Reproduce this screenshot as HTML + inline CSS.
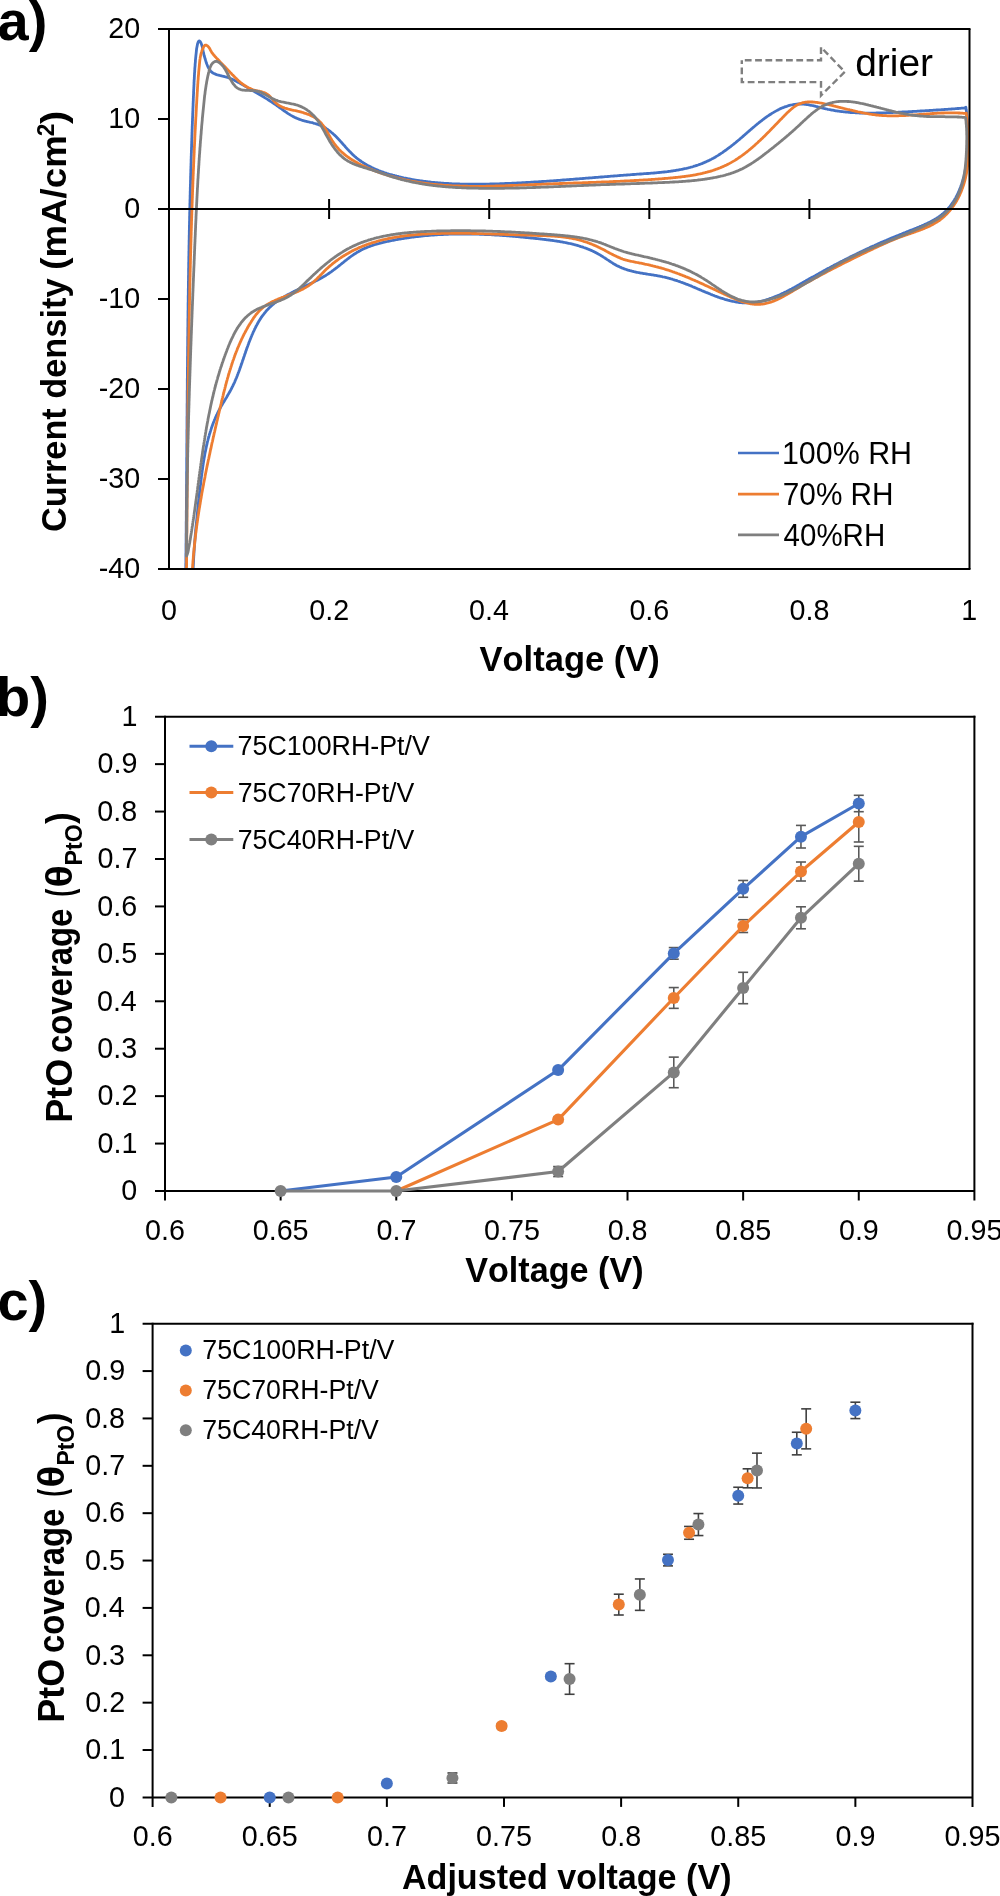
<!DOCTYPE html>
<html><head><meta charset="utf-8"><title>figure</title>
<style>
html,body{margin:0;padding:0;background:#fff;}
svg{display:block;will-change:transform;}
text{font-family:"Liberation Sans",sans-serif;font-kerning:none;fill:#000;}
</style></head><body>
<svg width="1000" height="1896" viewBox="0 0 1000 1896">
<rect x="0" y="0" width="1000" height="1896" fill="#fff"/>
<clipPath id="clipa"><rect x="169.00" y="29.00" width="800.50" height="540.00"/></clipPath>
<path d="M185.4,600.0 185.4,599.0 185.4,598.0 185.4,597.0 185.5,596.0 185.5,595.0 185.5,594.0 185.5,593.0 185.5,592.0 185.5,591.0 185.5,590.0 185.5,589.0 185.6,588.0 185.6,587.0 185.6,586.0 185.6,585.0 185.6,584.0 185.6,583.0 185.6,582.0 185.6,581.0 185.7,580.0 185.7,579.0 185.7,578.0 185.7,577.0 185.7,576.0 185.7,575.0 185.7,574.0 185.7,573.0 185.8,572.0 185.8,571.0 185.8,570.0 185.8,569.0 185.8,568.0 185.8,567.0 185.8,566.0 185.8,565.0 185.8,564.0 185.9,563.0 185.9,562.0 185.9,561.0 185.9,560.0 185.9,559.0 185.9,558.0 185.9,557.0 185.9,556.0 185.9,554.9 185.9,553.9 186.0,552.9 186.0,551.9 186.0,550.9 186.0,549.9 186.0,548.9 186.0,547.9 186.0,546.9 186.0,545.9 186.0,544.9 186.0,543.9 186.1,542.9 186.1,541.9 186.1,540.9 186.1,539.9 186.1,538.9 186.1,537.9 186.1,536.9 186.1,535.9 186.1,534.9 186.1,533.9 186.2,532.9 186.2,531.9 186.2,530.9 186.2,529.9 186.2,528.9 186.2,527.9 186.2,526.9 186.2,525.9 186.2,524.9 186.2,523.9 186.2,522.9 186.2,521.9 186.3,520.9 186.3,519.9 186.3,518.9 186.3,517.9 186.3,516.9 186.3,515.9 186.3,514.9 186.3,513.9 186.3,512.9 186.3,511.9 186.3,510.9 186.4,509.9 186.4,508.9 186.4,507.9 186.4,506.9 186.4,505.9 186.4,504.9 186.4,503.9 186.4,502.9 186.4,501.9 186.4,500.9 186.4,499.9 186.4,498.9 186.4,497.9 186.5,496.9 186.5,495.9 186.5,494.9 186.5,493.9 186.5,492.9 186.5,491.9 186.5,490.9 186.5,489.9 186.5,488.9 186.5,487.9 186.5,486.9 186.5,485.9 186.5,484.9 186.6,483.9 186.6,482.9 186.6,481.9 186.6,480.9 186.6,479.9 186.6,478.9 186.6,477.9 186.6,476.9 186.6,475.9 186.6,474.9 186.6,473.9 186.6,472.9 186.6,471.9 186.7,470.9 186.7,469.9 186.7,468.9 186.7,467.9 186.7,466.9 186.7,465.9 186.7,464.9 186.7,463.9 186.7,462.9 186.7,461.9 186.7,460.9 186.7,459.9 186.7,458.9 186.7,457.9 186.8,456.9 186.8,455.9 186.8,454.9 186.8,453.9 186.8,452.9 186.8,451.9 186.8,450.9 186.8,449.9 186.8,448.9 186.8,447.9 186.8,446.9 186.8,445.9 186.8,444.9 186.8,443.9 186.9,442.9 186.9,441.9 186.9,440.9 186.9,439.9 186.9,438.9 186.9,437.9 186.9,436.9 186.9,435.9 186.9,434.9 186.9,433.9 186.9,432.9 186.9,431.9 186.9,430.9 186.9,429.9 187.0,428.8 187.0,427.8 187.0,426.8 187.0,425.8 187.0,424.8 187.0,423.8 187.0,422.8 187.0,421.8 187.0,420.8 187.0,419.8 187.0,418.8 187.0,417.8 187.0,416.8 187.1,415.8 187.1,414.8 187.1,413.8 187.1,412.8 187.1,411.8 187.1,410.8 187.1,409.8 187.1,408.8 187.1,407.8 187.1,406.8 187.1,405.8 187.1,404.8 187.1,403.8 187.2,402.8 187.2,401.8 187.2,400.8 187.2,399.8 187.2,398.8 187.2,397.8 187.2,396.8 187.2,395.8 187.2,394.8 187.2,393.8 187.2,392.8 187.2,391.8 187.2,390.8 187.3,389.8 187.3,388.8 187.3,387.8 187.3,386.8 187.3,385.8 187.3,384.8 187.3,383.8 187.3,382.8 187.3,381.8 187.3,380.8 187.3,379.8 187.3,378.8 187.4,377.8 187.4,376.8 187.4,375.8 187.4,374.8 187.4,373.8 187.4,372.8 187.4,371.8 187.4,370.8 187.4,369.8 187.4,368.8 187.4,367.8 187.5,366.8 187.5,365.8 187.5,364.8 187.5,363.8 187.5,362.8 187.5,361.8 187.5,360.8 187.5,359.8 187.5,358.8 187.5,357.8 187.5,356.8 187.6,355.8 187.6,354.8 187.6,353.8 187.6,352.8 187.6,351.8 187.6,350.8 187.6,349.8 187.6,348.8 187.6,347.8 187.6,346.8 187.7,345.8 187.7,344.8 187.7,343.8 187.7,342.8 187.7,341.8 187.7,340.8 187.7,339.8 187.7,338.8 187.7,337.8 187.7,336.8 187.8,335.8 187.8,334.8 187.8,333.8 187.8,332.8 187.8,331.8 187.8,330.8 187.8,329.8 187.8,328.8 187.8,327.8 187.9,326.8 187.9,325.8 187.9,324.8 187.9,323.8 187.9,322.8 187.9,321.8 187.9,320.8 187.9,319.8 187.9,318.8 188.0,317.8 188.0,316.8 188.0,315.8 188.0,314.8 188.0,313.8 188.0,312.8 188.0,311.8 188.0,310.8 188.1,309.8 188.1,308.8 188.1,307.8 188.1,306.8 188.1,305.8 188.1,304.8 188.1,303.8 188.1,302.8 188.2,301.8 188.2,300.8 188.2,299.8 188.2,298.8 188.2,297.8 188.2,296.8 188.2,295.8 188.3,294.8 188.3,293.8 188.3,292.8 188.3,291.8 188.3,290.8 188.3,289.8 188.3,288.8 188.4,287.8 188.4,286.8 188.4,285.8 188.4,284.8 188.4,283.8 188.4,282.8 188.4,281.8 188.5,280.8 188.5,279.8 188.5,278.8 188.5,277.8 188.5,276.8 188.5,275.8 188.6,274.8 188.6,273.8 188.6,272.8 188.6,271.8 188.6,270.8 188.6,269.7 188.6,268.7 188.7,267.7 188.7,266.7 188.7,265.7 188.7,264.7 188.7,263.7 188.7,262.7 188.8,261.7 188.8,260.7 188.8,259.7 188.8,258.7 188.8,257.7 188.8,256.7 188.9,255.7 188.9,254.7 188.9,253.7 188.9,252.7 188.9,251.7 189.0,250.7 189.0,249.7 189.0,248.7 189.0,247.7 189.0,246.7 189.0,245.7 189.1,244.7 189.1,243.7 189.1,242.7 189.1,241.7 189.1,240.7 189.2,239.7 189.2,238.7 189.2,237.7 189.2,236.7 189.2,235.7 189.3,234.7 189.3,233.7 189.3,232.7 189.3,231.7 189.3,230.7 189.4,229.7 189.4,228.7 189.4,227.7 189.4,226.7 189.4,225.7 189.5,224.7 189.5,223.7 189.5,222.7 189.5,221.7 189.6,220.7 189.6,219.7 189.6,218.7 189.6,217.7 189.6,216.7 189.7,215.7 189.7,214.7 189.7,213.7 189.7,212.7 189.8,211.7 189.8,210.7 189.8,209.7 189.8,208.7 189.8,207.7 189.9,206.7 189.9,205.7 189.9,204.7 189.9,203.7 190.0,202.7 190.0,201.7 190.0,200.7 190.0,199.7 190.1,198.7 190.1,197.7 190.1,196.7 190.1,195.7 190.2,194.7 190.2,193.7 190.2,192.7 190.2,191.7 190.3,190.7 190.3,189.7 190.3,188.7 190.3,187.7 190.4,186.7 190.4,185.7 190.4,184.7 190.5,183.7 190.5,182.7 190.5,181.7 190.5,180.7 190.6,179.7 190.6,178.7 190.6,177.7 190.6,176.7 190.7,175.7 190.7,174.7 190.7,173.7 190.8,172.7 190.8,171.7 190.8,170.7 190.8,169.7 190.9,168.7 190.9,167.7 190.9,166.7 191.0,165.7 191.0,164.7 191.0,163.7 191.1,162.7 191.1,161.7 191.1,160.7 191.1,159.6 191.2,158.6 191.2,157.6 191.2,156.6 191.3,155.6 191.3,154.6 191.3,153.6 191.4,152.6 191.4,151.6 191.4,150.6 191.5,149.6 191.5,148.6 191.5,147.6 191.6,146.6 191.6,145.6 191.6,144.6 191.7,143.6 191.7,142.6 191.7,141.6 191.8,140.6 191.8,139.6 191.8,138.6 191.9,137.6 191.9,136.6 191.9,135.6 192.0,134.6 192.0,133.6 192.0,132.6 192.1,131.6 192.1,130.6 192.1,129.6 192.2,128.6 192.2,127.6 192.2,126.6 192.3,125.6 192.3,124.6 192.4,123.6 192.4,122.6 192.4,121.6 192.5,120.6 192.5,119.6 192.5,118.6 192.6,117.6 192.6,116.6 192.7,115.6 192.7,114.6 192.7,113.6 192.8,112.6 192.8,111.6 192.9,110.6 192.9,109.6 192.9,108.6 193.0,107.6 193.0,106.6 193.1,105.6 193.1,104.6 193.1,103.6 193.2,102.6 193.2,101.6 193.3,100.6 193.3,99.6 193.3,98.6 193.4,97.6 193.4,96.6 193.5,95.6 193.5,94.6 193.6,93.6 193.6,92.6 193.6,91.6 193.7,90.6 193.7,89.6 193.8,88.6 193.8,87.6 193.9,86.6 193.9,85.6 194.0,84.6 194.0,83.6 194.0,82.6 194.1,81.6 194.1,80.6 194.2,79.6 194.3,78.6 194.3,77.6 194.4,76.6 194.4,75.6 194.5,74.6 194.5,73.6 194.6,72.6 194.7,71.6 194.7,70.6 194.8,69.6 194.8,68.6 194.9,67.6 195.0,66.6 195.1,65.6 195.1,64.6 195.2,63.6 195.3,62.6 195.4,61.6 195.4,60.7 195.5,59.7 195.6,58.7 195.7,57.7 195.8,56.7 195.9,55.7 196.0,54.7 196.1,53.8 196.2,52.8 196.3,51.8 196.4,50.8 196.5,49.8 196.6,48.8 196.8,47.8 197.0,46.8 197.2,45.7 197.4,44.6 197.7,43.4 198.1,42.3 198.5,41.4 199.0,40.9 199.5,40.9 200.0,41.4 200.5,42.1 200.9,42.8 201.3,43.7 201.6,44.6 201.9,45.6 202.2,46.6 202.5,47.6 202.7,48.7 202.9,49.8 203.1,50.9 203.3,51.9 203.5,52.9 203.8,53.9 204.0,54.9 204.2,55.8 204.5,56.7 204.8,57.6 205.0,58.5 205.3,59.4 205.6,60.4 205.9,61.3 206.2,62.3 206.5,63.3 206.9,64.3 207.3,65.2 207.7,66.2 208.1,67.1 208.6,68.0 209.1,68.9 209.6,69.7 210.2,70.5 210.8,71.2 211.5,71.9 212.2,72.5 213.0,73.0 213.8,73.4 214.7,73.9 215.6,74.2 216.5,74.6 217.5,74.9 218.5,75.1 219.5,75.4 220.5,75.6 221.5,75.9 222.5,76.1 223.6,76.3 224.6,76.6 225.6,76.8 226.6,77.1 227.6,77.4 228.5,77.7 229.5,78.1 230.4,78.5 231.3,78.8 232.3,79.2 233.2,79.7 234.0,80.1 234.9,80.6 235.8,81.0 236.7,81.5 237.6,82.0 238.4,82.4 239.3,82.9 240.1,83.4 241.0,83.9 241.8,84.4 242.7,84.9 243.6,85.4 244.4,85.9 245.3,86.4 246.1,86.9 247.0,87.4 247.9,87.9 248.7,88.4 249.6,88.9 250.5,89.4 251.3,89.8 252.2,90.3 253.0,90.8 253.9,91.3 254.8,91.8 255.6,92.3 256.5,92.8 257.4,93.3 258.2,93.8 259.1,94.3 259.9,94.8 260.8,95.3 261.7,95.8 262.5,96.3 263.4,96.8 264.2,97.3 265.1,97.9 265.9,98.4 266.8,98.9 267.6,99.4 268.5,100.0 269.3,100.5 270.1,101.0 271.0,101.6 271.8,102.1 272.6,102.7 273.5,103.2 274.3,103.8 275.1,104.4 275.9,104.9 276.7,105.5 277.6,106.1 278.4,106.7 279.2,107.3 280.0,107.8 280.8,108.4 281.6,109.0 282.4,109.6 283.2,110.2 284.0,110.8 284.8,111.3 285.7,111.9 286.5,112.5 287.3,113.0 288.1,113.6 289.0,114.1 289.8,114.6 290.6,115.1 291.5,115.6 292.4,116.1 293.2,116.6 294.1,117.0 295.0,117.5 295.9,117.9 296.8,118.3 297.7,118.7 298.6,119.0 299.5,119.4 300.5,119.7 301.4,120.0 302.4,120.3 303.4,120.6 304.3,120.8 305.3,121.1 306.3,121.3 307.3,121.6 308.3,121.8 309.2,122.0 310.2,122.3 311.2,122.5 312.2,122.7 313.2,123.0 314.1,123.3 315.1,123.5 316.1,123.8 317.0,124.1 318.0,124.5 318.9,124.8 319.8,125.2 320.7,125.5 321.6,126.0 322.5,126.4 323.4,126.9 324.2,127.3 325.1,127.8 325.9,128.3 326.7,128.9 327.6,129.4 328.4,130.0 329.2,130.6 329.9,131.2 330.7,131.8 331.5,132.5 332.3,133.1 333.0,133.8 333.8,134.5 334.5,135.1 335.2,135.8 336.0,136.6 336.7,137.3 337.4,138.0 338.1,138.7 338.8,139.5 339.5,140.2 340.2,141.0 340.9,141.7 341.6,142.5 342.2,143.3 342.9,144.0 343.6,144.8 344.3,145.6 345.0,146.3 345.6,147.1 346.3,147.9 347.0,148.6 347.7,149.4 348.4,150.1 349.1,150.9 349.8,151.6 350.5,152.3 351.2,153.0 351.9,153.7 352.6,154.4 353.3,155.1 354.1,155.8 354.8,156.5 355.6,157.1 356.3,157.8 357.1,158.4 357.9,159.0 358.7,159.6 359.5,160.2 360.3,160.8 361.1,161.3 361.9,161.9 362.7,162.4 363.6,163.0 364.4,163.5 365.2,164.0 366.1,164.5 366.9,165.0 367.8,165.5 368.7,165.9 369.5,166.4 370.4,166.8 371.3,167.3 372.2,167.7 373.1,168.1 374.0,168.6 374.9,169.0 375.8,169.4 376.7,169.7 377.6,170.1 378.5,170.5 379.5,170.9 380.4,171.2 381.3,171.6 382.3,171.9 383.2,172.2 384.2,172.6 385.1,172.9 386.1,173.2 387.0,173.5 388.0,173.8 388.9,174.1 389.9,174.4 390.8,174.6 391.8,174.9 392.8,175.2 393.8,175.4 394.7,175.7 395.7,175.9 396.7,176.2 397.7,176.4 398.6,176.7 399.6,176.9 400.6,177.1 401.6,177.3 402.6,177.5 403.5,177.8 404.5,178.0 405.5,178.2 406.5,178.4 407.5,178.6 408.5,178.8 409.4,178.9 410.4,179.1 411.4,179.3 412.4,179.5 413.4,179.7 414.4,179.8 415.4,180.0 416.3,180.2 417.3,180.3 418.3,180.5 419.3,180.6 420.3,180.8 421.3,180.9 422.3,181.0 423.3,181.2 424.3,181.3 425.3,181.4 426.3,181.6 427.2,181.7 428.2,181.8 429.2,181.9 430.2,182.0 431.2,182.2 432.2,182.3 433.2,182.4 434.2,182.5 435.2,182.6 436.2,182.6 437.2,182.7 438.2,182.8 439.2,182.9 440.2,183.0 441.2,183.1 442.2,183.1 443.2,183.2 444.2,183.3 445.2,183.4 446.2,183.4 447.2,183.5 448.2,183.5 449.2,183.6 450.2,183.7 451.2,183.7 452.2,183.8 453.2,183.8 454.2,183.8 455.2,183.9 456.2,183.9 457.2,184.0 458.2,184.0 459.2,184.0 460.2,184.1 461.2,184.1 462.2,184.1 463.2,184.1 464.2,184.1 465.2,184.2 466.2,184.2 467.2,184.2 468.2,184.2 469.2,184.2 470.2,184.2 471.2,184.2 472.2,184.2 473.2,184.2 474.2,184.2 475.2,184.2 476.2,184.2 477.2,184.2 478.2,184.2 479.2,184.2 480.2,184.2 481.2,184.2 482.2,184.2 483.2,184.2 484.2,184.2 485.2,184.1 486.2,184.1 487.2,184.1 488.2,184.1 489.2,184.1 490.2,184.0 491.2,184.0 492.2,184.0 493.2,184.0 494.2,183.9 495.2,183.9 496.2,183.9 497.2,183.8 498.2,183.8 499.2,183.8 500.2,183.7 501.2,183.7 502.2,183.7 503.2,183.6 504.2,183.6 505.2,183.5 506.2,183.5 507.2,183.5 508.2,183.4 509.2,183.4 510.2,183.3 511.2,183.3 512.2,183.2 513.2,183.2 514.2,183.1 515.2,183.1 516.2,183.1 517.2,183.0 518.2,183.0 519.2,182.9 520.2,182.8 521.2,182.8 522.2,182.7 523.2,182.7 524.2,182.6 525.2,182.6 526.2,182.5 527.2,182.5 528.2,182.4 529.2,182.3 530.2,182.3 531.2,182.2 532.2,182.2 533.2,182.1 534.2,182.0 535.2,182.0 536.2,181.9 537.2,181.9 538.1,181.8 539.1,181.7 540.1,181.7 541.1,181.6 542.1,181.5 543.1,181.5 544.1,181.4 545.1,181.3 546.1,181.3 547.1,181.2 548.1,181.1 549.1,181.1 550.1,181.0 551.1,180.9 552.1,180.8 553.1,180.8 554.1,180.7 555.1,180.6 556.1,180.6 557.1,180.5 558.1,180.4 559.1,180.3 560.1,180.3 561.0,180.2 562.0,180.1 563.0,180.0 564.0,180.0 565.0,179.9 566.0,179.8 567.0,179.7 568.0,179.7 569.0,179.6 570.0,179.5 571.0,179.4 572.0,179.3 573.0,179.3 574.0,179.2 575.0,179.1 576.0,179.0 577.0,179.0 578.0,178.9 579.0,178.8 580.0,178.7 581.0,178.6 582.0,178.6 583.0,178.5 584.0,178.4 585.0,178.3 585.9,178.2 586.9,178.2 587.9,178.1 588.9,178.0 589.9,177.9 590.9,177.8 591.9,177.8 592.9,177.7 593.9,177.6 594.9,177.5 595.9,177.4 596.9,177.4 597.9,177.3 598.9,177.2 599.9,177.1 600.9,177.0 601.9,177.0 602.9,176.9 603.9,176.8 604.9,176.7 605.9,176.6 606.9,176.6 607.9,176.5 608.9,176.4 609.9,176.3 610.9,176.2 611.9,176.2 612.9,176.1 613.9,176.0 614.9,175.9 615.9,175.8 616.9,175.8 617.9,175.7 618.9,175.6 619.9,175.5 620.9,175.4 621.9,175.4 622.9,175.3 623.9,175.2 624.9,175.1 625.9,175.1 626.9,175.0 627.9,174.9 628.9,174.8 629.9,174.8 631.0,174.7 632.0,174.6 633.0,174.5 634.0,174.5 635.0,174.4 636.0,174.3 637.0,174.2 638.0,174.2 639.0,174.1 640.0,174.0 641.0,174.0 642.0,173.9 643.0,173.8 644.0,173.7 645.0,173.7 646.0,173.6 647.0,173.5 648.1,173.5 649.1,173.4 650.1,173.3 651.1,173.2 652.1,173.1 653.1,173.1 654.1,173.0 655.1,172.9 656.1,172.8 657.1,172.7 658.1,172.6 659.1,172.5 660.1,172.4 661.1,172.3 662.1,172.2 663.1,172.1 664.1,172.0 665.1,171.9 666.1,171.8 667.1,171.7 668.1,171.5 669.0,171.4 670.0,171.3 671.0,171.1 672.0,171.0 673.0,170.9 674.0,170.7 675.0,170.6 675.9,170.4 676.9,170.2 677.9,170.1 678.9,169.9 679.9,169.7 680.8,169.5 681.8,169.3 682.8,169.1 683.7,168.9 684.7,168.7 685.7,168.5 686.6,168.3 687.6,168.0 688.5,167.8 689.5,167.5 690.4,167.3 691.4,167.0 692.3,166.8 693.3,166.5 694.2,166.2 695.2,165.9 696.1,165.6 697.0,165.3 698.0,165.0 698.9,164.7 699.8,164.3 700.7,164.0 701.7,163.6 702.6,163.3 703.5,162.9 704.4,162.5 705.3,162.1 706.2,161.7 707.1,161.3 708.0,160.9 708.9,160.5 709.8,160.0 710.7,159.6 711.6,159.1 712.4,158.6 713.3,158.2 714.2,157.7 715.1,157.2 715.9,156.7 716.8,156.1 717.7,155.6 718.5,155.1 719.4,154.5 720.2,154.0 721.1,153.4 721.9,152.9 722.8,152.3 723.6,151.7 724.4,151.1 725.3,150.5 726.1,150.0 726.9,149.4 727.7,148.7 728.5,148.1 729.4,147.5 730.2,146.9 731.0,146.3 731.8,145.6 732.6,145.0 733.4,144.4 734.2,143.7 735.0,143.1 735.8,142.5 736.5,141.8 737.3,141.2 738.1,140.5 738.9,139.9 739.7,139.2 740.4,138.5 741.2,137.9 742.0,137.2 742.7,136.6 743.5,135.9 744.2,135.3 745.0,134.6 745.7,133.9 746.5,133.3 747.2,132.6 748.0,132.0 748.7,131.3 749.5,130.7 750.2,130.0 751.0,129.4 751.7,128.7 752.5,128.1 753.2,127.4 754.0,126.8 754.7,126.2 755.5,125.5 756.3,124.9 757.0,124.3 757.8,123.6 758.6,123.0 759.3,122.4 760.1,121.8 760.9,121.2 761.7,120.6 762.4,120.0 763.2,119.4 764.0,118.8 764.8,118.2 765.6,117.6 766.5,117.0 767.3,116.4 768.1,115.9 768.9,115.3 769.8,114.8 770.6,114.2 771.4,113.7 772.3,113.1 773.2,112.6 774.0,112.1 774.9,111.6 775.8,111.1 776.7,110.6 777.5,110.2 778.4,109.7 779.3,109.3 780.2,108.8 781.1,108.4 782.0,108.0 783.0,107.6 783.9,107.3 784.8,106.9 785.7,106.6 786.7,106.3 787.6,106.0 788.5,105.7 789.5,105.4 790.4,105.2 791.4,105.0 792.3,104.8 793.3,104.6 794.2,104.4 795.2,104.3 796.2,104.2 797.1,104.1 798.1,104.0 799.1,104.0 800.0,104.0 801.0,104.0 802.0,104.1 803.0,104.1 804.0,104.2 804.9,104.3 805.9,104.4 806.9,104.6 807.9,104.7 808.9,104.9 809.9,105.1 810.9,105.3 811.9,105.5 812.9,105.7 813.9,105.9 814.9,106.1 815.9,106.4 816.9,106.6 817.9,106.9 818.9,107.1 819.9,107.4 820.8,107.6 821.9,107.9 822.9,108.1 823.9,108.4 824.8,108.6 825.8,108.8 826.8,109.0 827.8,109.3 828.8,109.5 829.8,109.7 830.8,109.9 831.8,110.1 832.8,110.2 833.8,110.4 834.8,110.6 835.8,110.8 836.8,110.9 837.8,111.1 838.8,111.2 839.8,111.3 840.8,111.5 841.8,111.6 842.8,111.7 843.8,111.8 844.8,111.9 845.8,112.0 846.8,112.1 847.8,112.2 848.8,112.3 849.7,112.4 850.7,112.5 851.7,112.5 852.7,112.6 853.7,112.7 854.7,112.7 855.7,112.8 856.7,112.8 857.7,112.9 858.7,112.9 859.7,113.0 860.7,113.0 861.7,113.0 862.7,113.0 863.6,113.1 864.6,113.1 865.6,113.1 866.6,113.1 867.6,113.1 868.6,113.1 869.6,113.1 870.6,113.1 871.6,113.1 872.6,113.1 873.6,113.1 874.6,113.1 875.6,113.1 876.6,113.0 877.5,113.0 878.5,113.0 879.5,113.0 880.5,112.9 881.5,112.9 882.5,112.9 883.5,112.8 884.5,112.8 885.5,112.8 886.5,112.7 887.5,112.7 888.5,112.7 889.5,112.6 890.5,112.6 891.5,112.5 892.5,112.5 893.5,112.4 894.5,112.4 895.5,112.4 896.5,112.3 897.5,112.3 898.5,112.2 899.5,112.2 900.5,112.1 901.5,112.1 902.5,112.0 903.5,112.0 904.5,111.9 905.5,111.9 906.5,111.8 907.5,111.8 908.5,111.7 909.5,111.7 910.5,111.6 911.5,111.6 912.5,111.5 913.5,111.4 914.5,111.4 915.5,111.3 916.5,111.3 917.5,111.2 918.5,111.2 919.5,111.1 920.5,111.0 921.5,111.0 922.6,110.9 923.6,110.9 924.6,110.8 925.6,110.7 926.6,110.7 927.6,110.6 928.6,110.6 929.6,110.5 930.6,110.4 931.6,110.4 932.6,110.3 933.6,110.2 934.6,110.2 935.6,110.1 936.6,110.0 937.6,110.0 938.6,109.9 939.6,109.8 940.6,109.8 941.6,109.7 942.6,109.6 943.6,109.6 944.6,109.5 945.6,109.4 946.6,109.4 947.6,109.3 948.6,109.2 949.6,109.1 950.6,109.1 951.6,109.0 952.6,108.9 953.6,108.8 954.6,108.8 955.6,108.7 956.6,108.6 957.6,108.5 958.6,108.5 959.5,108.4 960.5,108.3 961.5,108.2 962.5,108.2 963.5,108.1 964.5,108.0 965.9,107.3 966.0,108.3 966.1,109.3 966.3,110.3 966.4,111.2 966.5,112.2 966.6,113.2 966.7,114.2 966.8,115.2 966.9,116.2 967.0,117.2 967.1,118.2 967.2,119.2 967.3,120.2 967.3,121.2 967.4,122.1 967.5,123.1 967.6,124.1 967.6,125.1 967.7,126.1 967.7,127.1 967.8,128.1 967.8,129.1 967.9,130.1 967.9,131.1 968.0,132.1 968.0,133.1 968.0,134.1 968.1,135.1 968.1,136.1 968.1,137.1 968.1,138.1 968.1,139.1 968.1,140.1 968.1,141.1 968.1,142.1 968.1,143.1 968.0,144.1 968.0,145.1 968.0,146.1 967.9,147.1 967.9,148.1 967.8,149.1 967.8,150.1 967.7,151.1 967.7,152.1 967.6,153.1 967.5,154.1 967.4,155.1 967.3,156.1 967.2,157.1 967.1,158.1 967.0,159.1 966.9,160.1 966.7,161.1 966.6,162.1 966.5,163.1 966.3,164.1 966.2,165.1 966.0,166.1 965.8,167.1 965.7,168.1 965.5,169.1 965.3,170.1 965.1,171.1 964.9,172.1 964.7,173.1 964.4,174.1 964.2,175.1 964.0,176.1 963.7,177.1 963.4,178.0 963.2,179.0 962.9,180.0 962.6,181.0 962.3,181.9 962.0,182.9 961.7,183.9 961.4,184.8 961.0,185.8 960.7,186.7 960.3,187.7 960.0,188.6 959.6,189.5 959.2,190.5 958.8,191.4 958.4,192.3 958.0,193.2 957.6,194.1 957.2,195.0 956.7,195.9 956.2,196.8 955.8,197.6 955.3,198.5 954.8,199.3 954.3,200.2 953.8,201.0 953.3,201.8 952.7,202.6 952.2,203.4 951.6,204.2 951.0,205.0 950.4,205.8 949.8,206.6 949.2,207.3 948.6,208.0 947.9,208.8 947.3,209.5 946.6,210.2 945.9,210.9 945.2,211.6 944.5,212.2 943.8,212.9 943.1,213.5 942.3,214.1 941.6,214.8 940.8,215.4 940.0,215.9 939.2,216.5 938.4,217.1 937.6,217.6 936.7,218.2 935.9,218.7 935.0,219.2 934.2,219.7 933.3,220.2 932.4,220.7 931.5,221.2 930.6,221.7 929.7,222.1 928.8,222.6 927.9,223.0 927.0,223.5 926.1,223.9 925.1,224.3 924.2,224.8 923.2,225.2 922.3,225.6 921.4,226.0 920.4,226.4 919.5,226.8 918.5,227.2 917.5,227.6 916.6,228.0 915.6,228.3 914.7,228.7 913.7,229.1 912.8,229.5 911.8,229.9 910.9,230.2 909.9,230.6 909.0,231.0 908.1,231.4 907.1,231.7 906.2,232.1 905.2,232.5 904.3,232.8 903.4,233.2 902.5,233.6 901.5,234.0 900.6,234.3 899.7,234.7 898.8,235.1 897.8,235.5 896.9,235.8 896.0,236.2 895.1,236.6 894.1,237.0 893.2,237.4 892.3,237.7 891.4,238.1 890.5,238.5 889.6,238.9 888.6,239.3 887.7,239.7 886.8,240.1 885.9,240.5 885.0,240.8 884.1,241.2 883.2,241.6 882.2,242.0 881.3,242.4 880.4,242.8 879.5,243.2 878.6,243.6 877.7,244.0 876.8,244.5 875.9,244.9 875.0,245.3 874.1,245.7 873.1,246.1 872.2,246.5 871.3,246.9 870.4,247.3 869.5,247.8 868.6,248.2 867.7,248.6 866.8,249.0 865.9,249.4 865.0,249.9 864.1,250.3 863.2,250.7 862.3,251.1 861.4,251.6 860.5,252.0 859.6,252.4 858.7,252.9 857.8,253.3 856.9,253.7 856.0,254.2 855.1,254.6 854.2,255.1 853.3,255.5 852.4,255.9 851.5,256.4 850.6,256.8 849.7,257.3 848.8,257.7 847.9,258.2 847.0,258.6 846.1,259.1 845.2,259.5 844.3,260.0 843.4,260.4 842.5,260.9 841.7,261.3 840.8,261.8 839.9,262.3 839.0,262.7 838.1,263.2 837.2,263.6 836.3,264.1 835.4,264.6 834.5,265.0 833.7,265.5 832.8,266.0 831.9,266.4 831.0,266.9 830.1,267.4 829.2,267.9 828.4,268.3 827.5,268.8 826.6,269.3 825.7,269.8 824.8,270.2 823.9,270.7 823.1,271.2 822.2,271.7 821.3,272.2 820.4,272.6 819.5,273.1 818.7,273.6 817.8,274.1 816.9,274.6 816.0,275.1 815.2,275.6 814.3,276.1 813.4,276.6 812.5,277.1 811.7,277.5 810.8,278.0 809.9,278.5 809.0,279.0 808.2,279.5 807.3,280.0 806.4,280.5 805.6,281.0 804.7,281.5 803.8,282.0 802.9,282.5 802.1,283.0 801.2,283.5 800.3,284.0 799.5,284.5 798.6,285.0 797.7,285.5 796.8,286.0 796.0,286.5 795.1,287.0 794.2,287.5 793.3,287.9 792.4,288.4 791.6,288.9 790.7,289.4 789.8,289.8 788.9,290.3 788.0,290.7 787.1,291.2 786.2,291.7 785.3,292.1 784.4,292.5 783.5,293.0 782.6,293.4 781.7,293.8 780.8,294.2 779.9,294.7 779.0,295.1 778.0,295.5 777.1,295.9 776.2,296.2 775.2,296.6 774.3,297.0 773.4,297.4 772.4,297.7 771.5,298.1 770.5,298.4 769.6,298.7 768.6,299.1 767.7,299.4 766.7,299.7 765.7,300.0 764.8,300.3 763.8,300.5 762.8,300.8 761.9,301.0 760.9,301.3 759.9,301.5 758.9,301.7 758.0,301.9 757.0,302.1 756.0,302.2 755.0,302.4 754.1,302.5 753.1,302.6 752.1,302.7 751.1,302.8 750.1,302.9 749.2,302.9 748.2,302.9 747.2,302.9 746.2,302.9 745.3,302.9 744.3,302.9 743.3,302.8 742.3,302.8 741.4,302.7 740.4,302.6 739.4,302.5 738.4,302.4 737.5,302.2 736.5,302.1 735.5,301.9 734.6,301.7 733.6,301.5 732.6,301.3 731.7,301.1 730.7,300.9 729.7,300.7 728.8,300.4 727.8,300.2 726.9,299.9 725.9,299.6 724.9,299.3 724.0,299.0 723.0,298.7 722.1,298.4 721.1,298.1 720.2,297.8 719.2,297.5 718.2,297.1 717.3,296.8 716.3,296.4 715.4,296.1 714.4,295.7 713.5,295.3 712.5,295.0 711.6,294.6 710.6,294.2 709.7,293.8 708.7,293.4 707.8,293.0 706.8,292.6 705.9,292.3 704.9,291.9 704.0,291.5 703.1,291.1 702.1,290.7 701.2,290.3 700.2,289.9 699.3,289.5 698.4,289.1 697.4,288.7 696.5,288.3 695.5,287.9 694.6,287.5 693.7,287.1 692.7,286.7 691.8,286.3 690.9,285.9 689.9,285.5 689.0,285.2 688.1,284.8 687.1,284.4 686.2,284.1 685.3,283.7 684.4,283.4 683.4,283.0 682.5,282.7 681.6,282.3 680.6,282.0 679.7,281.7 678.8,281.3 677.8,281.0 676.9,280.7 676.0,280.4 675.0,280.1 674.1,279.8 673.1,279.5 672.2,279.2 671.3,279.0 670.3,278.7 669.4,278.4 668.4,278.2 667.5,277.9 666.5,277.7 665.5,277.4 664.6,277.2 663.6,277.0 662.6,276.8 661.7,276.5 660.7,276.3 659.7,276.1 658.7,276.0 657.8,275.8 656.8,275.6 655.8,275.4 654.8,275.3 653.8,275.1 652.8,274.9 651.8,274.8 650.8,274.6 649.8,274.5 648.8,274.3 647.8,274.2 646.8,274.0 645.8,273.9 644.8,273.7 643.8,273.6 642.8,273.4 641.8,273.2 640.8,273.1 639.8,272.9 638.8,272.7 637.8,272.5 636.8,272.3 635.9,272.1 634.9,271.9 633.9,271.7 632.9,271.4 632.0,271.2 631.0,270.9 630.0,270.7 629.1,270.4 628.1,270.1 627.2,269.8 626.3,269.5 625.3,269.2 624.4,268.9 623.5,268.5 622.5,268.1 621.6,267.8 620.7,267.4 619.8,267.0 618.9,266.5 618.0,266.1 617.1,265.7 616.2,265.2 615.4,264.7 614.5,264.2 613.6,263.7 612.8,263.2 611.9,262.6 611.1,262.1 610.2,261.5 609.4,261.0 608.5,260.4 607.7,259.9 606.8,259.3 606.0,258.7 605.1,258.2 604.3,257.6 603.4,257.1 602.6,256.5 601.7,256.0 600.9,255.5 600.0,254.9 599.1,254.4 598.3,254.0 597.4,253.5 596.5,253.0 595.6,252.5 594.7,252.1 593.9,251.6 593.0,251.2 592.1,250.8 591.2,250.4 590.3,250.0 589.4,249.6 588.4,249.2 587.5,248.9 586.6,248.5 585.7,248.2 584.8,247.8 583.8,247.5 582.9,247.2 582.0,246.9 581.0,246.6 580.1,246.3 579.2,246.0 578.2,245.7 577.3,245.4 576.3,245.1 575.4,244.9 574.4,244.6 573.5,244.4 572.5,244.1 571.6,243.9 570.6,243.7 569.6,243.5 568.7,243.3 567.7,243.1 566.7,242.9 565.7,242.7 564.8,242.5 563.8,242.3 562.8,242.1 561.8,241.9 560.9,241.8 559.9,241.6 558.9,241.4 557.9,241.3 556.9,241.1 555.9,241.0 554.9,240.8 554.0,240.7 553.0,240.5 552.0,240.4 551.0,240.3 550.0,240.1 549.0,240.0 548.0,239.9 547.0,239.8 546.0,239.6 545.0,239.5 544.0,239.4 543.0,239.3 542.0,239.2 541.0,239.1 540.0,238.9 539.0,238.8 538.0,238.7 537.0,238.6 536.0,238.5 535.0,238.4 534.0,238.3 533.0,238.2 532.0,238.1 531.0,238.0 530.0,237.9 529.0,237.8 528.0,237.7 527.0,237.6 526.0,237.5 525.0,237.4 524.0,237.3 523.0,237.2 522.0,237.1 521.0,237.0 520.0,236.9 519.0,236.8 518.0,236.7 517.0,236.6 516.0,236.5 515.0,236.4 514.0,236.3 513.0,236.3 512.0,236.2 511.0,236.1 510.0,236.0 509.0,235.9 508.0,235.8 507.0,235.8 506.0,235.7 505.0,235.6 504.0,235.6 503.0,235.5 502.0,235.4 501.0,235.3 500.0,235.3 499.0,235.2 498.0,235.1 497.0,235.1 496.0,235.0 495.0,235.0 494.0,234.9 493.0,234.8 492.0,234.8 491.0,234.7 490.0,234.7 489.0,234.6 488.0,234.6 487.0,234.5 486.0,234.5 484.9,234.5 483.9,234.4 482.9,234.4 481.9,234.3 480.9,234.3 479.9,234.3 478.9,234.2 477.9,234.2 476.9,234.2 475.9,234.2 474.9,234.1 473.9,234.1 472.9,234.1 471.9,234.1 470.9,234.1 469.9,234.0 468.9,234.0 467.9,234.0 466.9,234.0 465.9,234.0 464.9,234.0 463.9,234.0 462.9,234.0 461.9,234.0 460.9,234.0 459.9,234.0 458.9,234.0 457.9,234.0 456.9,234.1 455.9,234.1 454.9,234.1 453.9,234.1 452.9,234.1 451.9,234.2 450.9,234.2 449.9,234.2 448.9,234.2 447.9,234.3 446.9,234.3 445.9,234.3 444.9,234.4 443.9,234.4 442.9,234.5 441.9,234.5 440.9,234.6 439.9,234.6 438.9,234.7 437.9,234.7 436.9,234.8 435.9,234.9 434.9,234.9 433.9,235.0 432.9,235.1 431.9,235.2 430.9,235.2 429.9,235.3 428.9,235.4 427.9,235.5 426.9,235.6 425.9,235.7 424.9,235.7 423.9,235.8 422.9,235.9 422.0,236.0 421.0,236.1 420.0,236.3 419.0,236.4 418.0,236.5 417.0,236.6 416.0,236.7 415.0,236.8 414.0,237.0 413.0,237.1 412.0,237.2 411.0,237.3 410.0,237.5 409.0,237.6 408.0,237.8 407.0,237.9 406.1,238.1 405.1,238.2 404.1,238.4 403.1,238.5 402.1,238.7 401.1,238.9 400.1,239.0 399.1,239.2 398.1,239.4 397.1,239.5 396.1,239.7 395.2,239.9 394.2,240.1 393.2,240.3 392.2,240.5 391.2,240.7 390.2,240.9 389.2,241.1 388.2,241.3 387.3,241.5 386.3,241.7 385.3,241.9 384.3,242.2 383.3,242.4 382.3,242.6 381.4,242.9 380.4,243.1 379.4,243.4 378.5,243.6 377.5,243.9 376.5,244.2 375.6,244.5 374.6,244.7 373.7,245.0 372.7,245.3 371.8,245.7 370.8,246.0 369.9,246.3 369.0,246.7 368.0,247.0 367.1,247.4 366.2,247.8 365.3,248.1 364.4,248.5 363.5,248.9 362.6,249.4 361.7,249.8 360.9,250.2 360.0,250.7 359.1,251.2 358.3,251.7 357.4,252.1 356.6,252.7 355.8,253.2 354.9,253.7 354.1,254.2 353.3,254.8 352.5,255.4 351.7,255.9 350.9,256.5 350.1,257.1 349.3,257.7 348.5,258.3 347.7,258.9 346.9,259.5 346.2,260.1 345.4,260.7 344.6,261.3 343.8,262.0 343.1,262.6 342.3,263.2 341.5,263.8 340.7,264.5 339.9,265.1 339.2,265.7 338.4,266.3 337.6,267.0 336.8,267.6 336.0,268.2 335.2,268.8 334.4,269.4 333.6,270.0 332.8,270.6 332.0,271.2 331.2,271.8 330.3,272.4 329.5,273.0 328.7,273.5 327.8,274.1 327.0,274.6 326.1,275.2 325.3,275.7 324.4,276.2 323.5,276.7 322.6,277.2 321.8,277.7 320.9,278.2 320.0,278.7 319.1,279.2 318.2,279.7 317.3,280.2 316.4,280.6 315.5,281.1 314.6,281.6 313.7,282.0 312.7,282.5 311.8,282.9 310.9,283.4 310.0,283.8 309.1,284.3 308.1,284.7 307.2,285.1 306.3,285.6 305.4,286.0 304.4,286.5 303.5,286.9 302.6,287.3 301.7,287.8 300.7,288.2 299.8,288.6 298.9,289.1 298.0,289.5 297.1,290.0 296.2,290.4 295.3,290.9 294.3,291.3 293.4,291.8 292.5,292.2 291.6,292.7 290.8,293.1 289.9,293.6 289.0,294.1 288.1,294.5 287.2,295.0 286.4,295.5 285.5,296.0 284.6,296.5 283.8,297.0 282.9,297.5 282.1,298.0 281.3,298.5 280.4,299.0 279.6,299.6 278.8,300.1 278.0,300.7 277.2,301.2 276.4,301.8 275.7,302.4 274.9,302.9 274.1,303.5 273.4,304.1 272.6,304.8 271.9,305.4 271.2,306.0 270.5,306.7 269.8,307.3 269.1,308.0 268.4,308.7 267.7,309.4 267.1,310.1 266.4,310.8 265.8,311.5 265.2,312.3 264.6,313.0 264.0,313.8 263.4,314.6 262.8,315.3 262.2,316.1 261.7,316.9 261.1,317.7 260.6,318.6 260.0,319.4 259.5,320.2 259.0,321.1 258.5,321.9 258.0,322.8 257.5,323.7 257.0,324.6 256.6,325.4 256.1,326.3 255.6,327.2 255.2,328.1 254.7,329.0 254.3,330.0 253.9,330.9 253.4,331.8 253.0,332.7 252.6,333.7 252.2,334.6 251.8,335.6 251.4,336.5 251.0,337.5 250.6,338.4 250.2,339.4 249.8,340.4 249.5,341.3 249.1,342.3 248.7,343.3 248.4,344.2 248.0,345.2 247.7,346.2 247.3,347.1 247.0,348.1 246.6,349.1 246.3,350.1 245.9,351.0 245.6,352.0 245.3,353.0 244.9,354.0 244.6,354.9 244.3,355.9 243.9,356.9 243.6,357.8 243.3,358.8 243.0,359.8 242.6,360.7 242.3,361.7 242.0,362.6 241.7,363.6 241.3,364.5 241.0,365.5 240.7,366.4 240.4,367.4 240.0,368.3 239.7,369.2 239.4,370.2 239.0,371.1 238.7,372.0 238.3,372.9 238.0,373.8 237.6,374.8 237.3,375.7 236.9,376.6 236.6,377.5 236.2,378.4 235.8,379.3 235.4,380.2 235.0,381.1 234.7,382.0 234.3,382.9 233.8,383.8 233.4,384.7 233.0,385.5 232.6,386.4 232.1,387.3 231.7,388.2 231.2,389.1 230.8,389.9 230.3,390.8 229.8,391.7 229.3,392.6 228.8,393.4 228.3,394.3 227.8,395.1 227.3,396.0 226.8,396.9 226.3,397.7 225.7,398.6 225.2,399.5 224.7,400.3 224.2,401.2 223.7,402.1 223.1,402.9 222.6,403.8 222.1,404.7 221.6,405.5 221.1,406.4 220.6,407.3 220.1,408.2 219.6,409.1 219.2,409.9 218.7,410.8 218.3,411.7 217.8,412.6 217.4,413.5 217.0,414.4 216.5,415.3 216.1,416.2 215.7,417.1 215.3,418.0 214.9,419.0 214.5,419.9 214.2,420.8 213.8,421.7 213.4,422.6 213.1,423.6 212.7,424.5 212.4,425.4 212.1,426.4 211.7,427.3 211.4,428.2 211.1,429.2 210.8,430.1 210.5,431.1 210.2,432.0 209.9,433.0 209.6,433.9 209.3,434.9 209.1,435.8 208.8,436.8 208.5,437.7 208.3,438.7 208.0,439.7 207.8,440.6 207.5,441.6 207.3,442.6 207.1,443.5 206.9,444.5 206.6,445.5 206.4,446.5 206.2,447.4 206.0,448.4 205.8,449.4 205.6,450.4 205.4,451.4 205.2,452.3 205.0,453.3 204.8,454.3 204.7,455.3 204.5,456.3 204.3,457.3 204.1,458.3 204.0,459.2 203.8,460.2 203.6,461.2 203.5,462.2 203.3,463.2 203.2,464.2 203.0,465.2 202.9,466.2 202.7,467.2 202.6,468.2 202.5,469.2 202.3,470.2 202.2,471.2 202.1,472.2 201.9,473.2 201.8,474.2 201.7,475.2 201.5,476.2 201.4,477.2 201.3,478.2 201.2,479.2 201.0,480.2 200.9,481.2 200.8,482.2 200.7,483.2 200.6,484.2 200.4,485.2 200.3,486.2 200.2,487.2 200.1,488.2 200.0,489.2 199.9,490.2 199.7,491.2 199.6,492.2 199.5,493.2 199.4,494.2 199.3,495.2 199.2,496.2 199.1,497.2 199.0,498.2 198.8,499.1 198.7,500.1 198.6,501.1 198.5,502.1 198.4,503.1 198.3,504.1 198.2,505.1 198.1,506.1 198.0,507.1 197.9,508.1 197.8,509.1 197.7,510.1 197.6,511.1 197.5,512.1 197.4,513.1 197.3,514.1 197.2,515.1 197.1,516.1 197.0,517.1 196.9,518.1 196.8,519.1 196.7,520.1 196.6,521.1 196.5,522.1 196.4,523.1 196.3,524.0 196.2,525.0 196.1,526.0 196.0,527.0 195.9,528.0 195.8,529.0 195.7,530.0 195.6,531.0 195.6,532.0 195.5,533.0 195.4,534.0 195.3,535.0 195.2,536.0 195.1,537.0 195.1,538.0 195.0,539.0 194.9,540.0 194.8,541.0 194.7,542.0 194.7,543.0 194.6,544.0 194.5,545.0 194.5,545.9 194.4,546.9 194.3,547.9 194.2,548.9 194.2,549.9 194.1,550.9 194.0,551.9 194.0,552.9 193.9,553.9 193.9,554.9 193.8,555.9 193.7,556.9 193.7,557.9 193.6,558.9 193.6,559.9 193.5,560.9 193.5,561.9 193.4,562.9 193.4,563.9 193.3,564.9 193.3,565.9 193.2,566.9 193.2,567.9 193.1,568.9 193.1,569.9 193.0,570.9 193.0,571.9 193.0,572.9 192.9,573.9 192.9,574.9 192.9,575.9 192.8,576.9 192.8,577.9 192.8,578.9 192.7,579.9 192.7,580.9 192.7,581.9 192.7,582.9 192.6,583.9 192.6,584.9 192.6,585.9 192.6,586.9 192.6,587.9 192.5,588.9 192.5,589.9 192.5,590.9 192.5,591.9 192.5,593.0 192.5,594.0 192.5,595.0 192.5,596.0 192.5,597.0 192.5,598.0 192.5,599.0 192.5,600.0" fill="none" stroke="#4472C4" stroke-width="2.8" stroke-linejoin="round" stroke-linecap="butt" clip-path="url(#clipa)"/>
<path d="M186.2,600.0 186.2,599.0 186.2,598.0 186.2,597.0 186.2,596.0 186.3,595.0 186.3,594.0 186.3,593.0 186.3,592.0 186.3,591.0 186.3,590.0 186.3,589.0 186.3,588.0 186.3,587.0 186.4,586.0 186.4,585.0 186.4,584.0 186.4,583.0 186.4,582.0 186.4,581.0 186.4,580.0 186.4,579.0 186.4,578.0 186.4,577.0 186.5,576.0 186.5,575.0 186.5,574.0 186.5,573.0 186.5,572.0 186.5,571.0 186.5,570.0 186.5,569.0 186.5,568.0 186.5,567.0 186.6,566.0 186.6,565.0 186.6,564.0 186.6,563.0 186.6,562.0 186.6,561.0 186.6,560.0 186.6,559.0 186.6,558.0 186.6,557.0 186.6,556.0 186.7,555.0 186.7,554.0 186.7,553.0 186.7,552.0 186.7,551.0 186.7,550.0 186.7,549.0 186.7,548.0 186.7,547.0 186.7,546.0 186.7,545.0 186.8,544.0 186.8,543.0 186.8,542.0 186.8,541.0 186.8,540.0 186.8,539.0 186.8,538.0 186.8,537.0 186.8,536.0 186.8,535.0 186.8,534.0 186.9,533.0 186.9,532.0 186.9,531.0 186.9,530.0 186.9,529.0 186.9,528.0 186.9,527.0 186.9,526.0 186.9,525.0 186.9,524.0 186.9,523.0 186.9,522.0 187.0,521.0 187.0,520.0 187.0,519.0 187.0,518.0 187.0,517.0 187.0,516.0 187.0,515.0 187.0,514.0 187.0,513.0 187.0,512.0 187.0,511.0 187.0,510.0 187.1,509.0 187.1,508.0 187.1,507.0 187.1,506.0 187.1,505.0 187.1,503.9 187.1,502.9 187.1,501.9 187.1,500.9 187.1,499.9 187.1,498.9 187.1,497.9 187.2,496.9 187.2,495.9 187.2,494.9 187.2,493.9 187.2,492.9 187.2,491.9 187.2,490.9 187.2,489.9 187.2,488.9 187.2,487.9 187.2,486.9 187.2,485.9 187.3,484.9 187.3,483.9 187.3,482.9 187.3,481.9 187.3,480.9 187.3,479.9 187.3,478.9 187.3,477.9 187.3,476.9 187.3,475.9 187.3,474.9 187.3,473.9 187.4,472.9 187.4,471.9 187.4,470.9 187.4,469.9 187.4,468.9 187.4,467.9 187.4,466.9 187.4,465.9 187.4,464.9 187.4,463.9 187.4,462.9 187.4,461.9 187.5,460.9 187.5,459.9 187.5,458.9 187.5,457.9 187.5,456.9 187.5,455.9 187.5,454.9 187.5,453.9 187.5,452.9 187.5,451.9 187.5,450.9 187.6,449.9 187.6,448.9 187.6,447.9 187.6,446.9 187.6,445.9 187.6,444.9 187.6,443.9 187.6,442.9 187.6,441.9 187.6,440.9 187.6,439.9 187.7,438.9 187.7,437.9 187.7,436.9 187.7,435.9 187.7,434.9 187.7,433.9 187.7,432.9 187.7,431.9 187.7,430.9 187.7,429.9 187.7,428.9 187.8,427.9 187.8,426.9 187.8,425.8 187.8,424.8 187.8,423.8 187.8,422.8 187.8,421.8 187.8,420.8 187.8,419.8 187.8,418.8 187.9,417.8 187.9,416.8 187.9,415.8 187.9,414.8 187.9,413.8 187.9,412.8 187.9,411.8 187.9,410.8 187.9,409.8 187.9,408.8 188.0,407.8 188.0,406.8 188.0,405.8 188.0,404.8 188.0,403.8 188.0,402.8 188.0,401.8 188.0,400.8 188.0,399.8 188.1,398.8 188.1,397.8 188.1,396.8 188.1,395.8 188.1,394.8 188.1,393.8 188.1,392.8 188.1,391.8 188.1,390.8 188.2,389.8 188.2,388.8 188.2,387.8 188.2,386.8 188.2,385.8 188.2,384.8 188.2,383.8 188.2,382.8 188.3,381.8 188.3,380.8 188.3,379.8 188.3,378.8 188.3,377.8 188.3,376.8 188.3,375.8 188.3,374.8 188.4,373.8 188.4,372.8 188.4,371.8 188.4,370.8 188.4,369.8 188.4,368.8 188.4,367.8 188.4,366.8 188.5,365.8 188.5,364.8 188.5,363.8 188.5,362.8 188.5,361.8 188.5,360.8 188.5,359.8 188.6,358.8 188.6,357.8 188.6,356.8 188.6,355.7 188.6,354.7 188.6,353.7 188.6,352.7 188.7,351.7 188.7,350.7 188.7,349.7 188.7,348.7 188.7,347.7 188.7,346.7 188.7,345.7 188.8,344.7 188.8,343.7 188.8,342.7 188.8,341.7 188.8,340.7 188.8,339.7 188.9,338.7 188.9,337.7 188.9,336.7 188.9,335.7 188.9,334.7 188.9,333.7 189.0,332.7 189.0,331.7 189.0,330.7 189.0,329.7 189.0,328.7 189.0,327.7 189.1,326.7 189.1,325.7 189.1,324.7 189.1,323.7 189.1,322.7 189.1,321.7 189.2,320.7 189.2,319.7 189.2,318.7 189.2,317.7 189.2,316.7 189.3,315.7 189.3,314.7 189.3,313.7 189.3,312.7 189.3,311.7 189.3,310.7 189.4,309.7 189.4,308.7 189.4,307.7 189.4,306.7 189.4,305.7 189.5,304.7 189.5,303.7 189.5,302.7 189.5,301.7 189.5,300.7 189.6,299.7 189.6,298.7 189.6,297.7 189.6,296.7 189.6,295.7 189.7,294.7 189.7,293.7 189.7,292.7 189.7,291.7 189.7,290.7 189.8,289.7 189.8,288.7 189.8,287.7 189.8,286.7 189.9,285.7 189.9,284.7 189.9,283.7 189.9,282.7 189.9,281.7 190.0,280.7 190.0,279.7 190.0,278.7 190.0,277.7 190.1,276.7 190.1,275.7 190.1,274.7 190.1,273.7 190.1,272.7 190.2,271.7 190.2,270.7 190.2,269.7 190.2,268.7 190.3,267.7 190.3,266.7 190.3,265.7 190.3,264.7 190.4,263.7 190.4,262.7 190.4,261.7 190.4,260.7 190.5,259.7 190.5,258.7 190.5,257.7 190.5,256.7 190.6,255.7 190.6,254.7 190.6,253.7 190.7,252.7 190.7,251.7 190.7,250.7 190.7,249.7 190.8,248.7 190.8,247.7 190.8,246.7 190.8,245.7 190.9,244.7 190.9,243.7 190.9,242.7 191.0,241.7 191.0,240.7 191.0,239.7 191.0,238.7 191.1,237.7 191.1,236.7 191.1,235.7 191.2,234.7 191.2,233.6 191.2,232.6 191.2,231.6 191.3,230.6 191.3,229.6 191.3,228.6 191.4,227.6 191.4,226.6 191.4,225.6 191.5,224.6 191.5,223.6 191.5,222.6 191.5,221.6 191.6,220.7 191.6,219.7 191.6,218.7 191.7,217.7 191.7,216.7 191.7,215.7 191.8,214.7 191.8,213.7 191.8,212.7 191.9,211.7 191.9,210.7 191.9,209.7 192.0,208.7 192.0,207.7 192.0,206.7 192.1,205.7 192.1,204.7 192.1,203.7 192.2,202.7 192.2,201.7 192.2,200.7 192.3,199.7 192.3,198.7 192.4,197.7 192.4,196.7 192.4,195.7 192.5,194.7 192.5,193.7 192.5,192.7 192.6,191.7 192.6,190.7 192.6,189.7 192.7,188.7 192.7,187.7 192.8,186.7 192.8,185.7 192.8,184.7 192.9,183.7 192.9,182.7 192.9,181.7 193.0,180.7 193.0,179.7 193.1,178.7 193.1,177.7 193.1,176.7 193.2,175.7 193.2,174.7 193.3,173.7 193.3,172.7 193.3,171.7 193.4,170.7 193.4,169.7 193.5,168.7 193.5,167.7 193.6,166.7 193.6,165.7 193.6,164.7 193.7,163.7 193.7,162.7 193.8,161.7 193.8,160.7 193.8,159.7 193.9,158.7 193.9,157.7 194.0,156.7 194.0,155.7 194.1,154.7 194.1,153.7 194.2,152.7 194.2,151.7 194.2,150.7 194.3,149.7 194.3,148.7 194.4,147.7 194.4,146.7 194.5,145.7 194.5,144.7 194.6,143.7 194.6,142.7 194.7,141.7 194.7,140.7 194.8,139.7 194.8,138.7 194.8,137.7 194.9,136.7 194.9,135.7 195.0,134.7 195.0,133.7 195.1,132.7 195.1,131.7 195.2,130.7 195.2,129.7 195.3,128.7 195.3,127.7 195.4,126.7 195.4,125.7 195.5,124.7 195.5,123.8 195.6,122.8 195.6,121.8 195.7,120.8 195.7,119.8 195.8,118.8 195.8,117.8 195.9,116.8 196.0,115.8 196.0,114.8 196.1,113.8 196.1,112.8 196.2,111.8 196.2,110.8 196.3,109.8 196.3,108.8 196.4,107.8 196.4,106.8 196.5,105.8 196.5,104.8 196.6,103.8 196.7,102.8 196.7,101.8 196.8,100.8 196.8,99.8 196.9,98.8 196.9,97.8 197.0,96.8 197.1,95.8 197.1,94.8 197.2,93.8 197.2,92.8 197.3,91.8 197.4,90.8 197.4,89.8 197.5,88.8 197.5,87.8 197.6,86.8 197.7,85.8 197.7,84.8 197.8,83.8 197.9,82.8 197.9,81.8 198.0,80.8 198.1,79.8 198.2,78.8 198.2,77.8 198.3,76.8 198.4,75.8 198.5,74.8 198.6,73.8 198.6,72.8 198.7,71.8 198.8,70.8 198.9,69.8 199.0,68.8 199.1,67.8 199.2,66.8 199.3,65.8 199.4,64.7 199.5,63.7 199.6,62.7 199.7,61.7 199.8,60.7 199.9,59.7 200.1,58.7 200.2,57.7 200.4,56.7 200.6,55.7 200.8,54.7 201.0,53.8 201.3,52.8 201.6,51.9 201.9,50.9 202.2,50.0 202.6,49.1 203.0,48.2 203.5,47.3 203.9,46.4 204.5,45.7 205.1,45.1 206.0,45.1 206.9,45.5 207.8,46.2 208.6,47.0 209.2,47.8 209.8,48.7 210.2,49.6 210.7,50.6 211.2,51.4 211.7,52.3 212.3,53.1 212.9,53.9 213.5,54.7 214.2,55.4 214.8,56.2 215.5,56.9 216.1,57.6 216.8,58.4 217.5,59.1 218.2,59.8 218.9,60.5 219.6,61.3 220.2,62.0 220.9,62.7 221.6,63.4 222.3,64.1 223.0,64.9 223.7,65.6 224.4,66.3 225.1,67.0 225.8,67.7 226.5,68.5 227.2,69.2 227.9,69.9 228.6,70.7 229.3,71.4 230.0,72.2 230.7,72.9 231.4,73.6 232.1,74.4 232.8,75.1 233.5,75.8 234.2,76.5 234.9,77.2 235.6,77.9 236.3,78.6 237.0,79.3 237.8,80.0 238.5,80.7 239.2,81.3 240.0,82.0 240.7,82.6 241.5,83.2 242.3,83.8 243.1,84.4 243.8,85.0 244.7,85.5 245.5,86.0 246.3,86.5 247.1,87.0 248.0,87.5 248.8,87.9 249.7,88.4 250.6,88.7 251.5,89.1 252.5,89.5 253.4,89.8 254.4,90.1 255.3,90.3 256.3,90.6 257.3,90.8 258.3,91.0 259.3,91.2 260.3,91.5 261.3,91.7 262.3,92.0 263.2,92.3 264.2,92.6 265.1,93.0 266.0,93.5 266.8,94.0 267.7,94.5 268.5,95.1 269.2,95.8 270.0,96.6 270.7,97.3 271.4,98.1 272.1,98.9 272.8,99.7 273.5,100.5 274.2,101.3 274.9,102.0 275.6,102.8 276.4,103.4 277.1,104.0 277.9,104.6 278.7,105.2 279.6,105.7 280.4,106.1 281.3,106.6 282.1,107.0 283.0,107.4 283.9,107.7 284.8,108.0 285.8,108.3 286.7,108.6 287.6,108.9 288.6,109.2 289.5,109.4 290.5,109.6 291.5,109.9 292.5,110.1 293.5,110.3 294.5,110.5 295.5,110.7 296.5,110.9 297.5,111.2 298.5,111.4 299.5,111.6 300.5,111.9 301.5,112.2 302.5,112.5 303.5,112.7 304.4,113.1 305.4,113.4 306.4,113.7 307.4,114.1 308.3,114.4 309.3,114.8 310.2,115.2 311.1,115.7 312.0,116.1 312.9,116.6 313.8,117.1 314.7,117.6 315.5,118.1 316.3,118.7 317.1,119.3 317.9,119.9 318.6,120.5 319.3,121.2 320.0,121.9 320.7,122.6 321.4,123.3 322.0,124.1 322.6,124.8 323.2,125.6 323.8,126.4 324.4,127.3 324.9,128.1 325.4,129.0 326.0,129.8 326.5,130.7 327.0,131.6 327.5,132.5 328.0,133.4 328.5,134.3 329.0,135.2 329.5,136.1 330.0,136.9 330.5,137.8 331.1,138.7 331.6,139.6 332.1,140.5 332.7,141.3 333.2,142.2 333.8,143.0 334.4,143.8 335.0,144.6 335.6,145.4 336.2,146.2 336.9,147.0 337.5,147.7 338.2,148.5 338.8,149.2 339.5,149.9 340.2,150.6 340.9,151.3 341.7,152.0 342.4,152.6 343.2,153.3 343.9,153.9 344.7,154.6 345.4,155.2 346.2,155.8 347.0,156.4 347.8,157.0 348.6,157.5 349.5,158.1 350.3,158.7 351.1,159.2 352.0,159.8 352.8,160.3 353.7,160.8 354.5,161.3 355.4,161.8 356.3,162.3 357.2,162.8 358.0,163.3 358.9,163.8 359.8,164.2 360.7,164.7 361.6,165.1 362.5,165.6 363.5,166.0 364.4,166.4 365.3,166.8 366.2,167.3 367.1,167.7 368.1,168.1 369.0,168.5 369.9,168.9 370.8,169.2 371.8,169.6 372.7,170.0 373.6,170.4 374.6,170.7 375.5,171.1 376.5,171.4 377.4,171.8 378.3,172.1 379.3,172.5 380.2,172.8 381.2,173.1 382.1,173.4 383.0,173.8 384.0,174.1 384.9,174.4 385.9,174.7 386.8,175.0 387.8,175.3 388.7,175.6 389.7,175.9 390.6,176.1 391.6,176.4 392.6,176.7 393.5,176.9 394.5,177.2 395.4,177.5 396.4,177.7 397.3,178.0 398.3,178.2 399.3,178.4 400.2,178.7 401.2,178.9 402.2,179.1 403.1,179.3 404.1,179.6 405.1,179.8 406.0,180.0 407.0,180.2 408.0,180.4 408.9,180.6 409.9,180.8 410.9,181.0 411.8,181.2 412.8,181.3 413.8,181.5 414.8,181.7 415.7,181.9 416.7,182.0 417.7,182.2 418.7,182.3 419.7,182.5 420.6,182.6 421.6,182.8 422.6,182.9 423.6,183.1 424.6,183.2 425.5,183.3 426.5,183.5 427.5,183.6 428.5,183.7 429.5,183.8 430.5,184.0 431.5,184.1 432.4,184.2 433.4,184.3 434.4,184.4 435.4,184.5 436.4,184.6 437.4,184.7 438.4,184.8 439.4,184.9 440.4,185.0 441.4,185.0 442.3,185.1 443.3,185.2 444.3,185.3 445.3,185.3 446.3,185.4 447.3,185.5 448.3,185.5 449.3,185.6 450.3,185.6 451.3,185.7 452.3,185.8 453.3,185.8 454.3,185.8 455.3,185.9 456.3,185.9 457.3,186.0 458.3,186.0 459.3,186.0 460.3,186.1 461.3,186.1 462.3,186.1 463.3,186.2 464.3,186.2 465.3,186.2 466.3,186.2 467.3,186.2 468.3,186.3 469.3,186.3 470.3,186.3 471.3,186.3 472.3,186.3 473.4,186.3 474.4,186.3 475.4,186.3 476.4,186.3 477.4,186.3 478.4,186.3 479.4,186.3 480.4,186.3 481.4,186.3 482.4,186.3 483.4,186.3 484.4,186.3 485.4,186.3 486.4,186.2 487.5,186.2 488.5,186.2 489.5,186.2 490.5,186.2 491.5,186.1 492.5,186.1 493.5,186.1 494.5,186.1 495.5,186.0 496.5,186.0 497.5,186.0 498.6,186.0 499.6,185.9 500.6,185.9 501.6,185.9 502.6,185.8 503.6,185.8 504.6,185.8 505.6,185.7 506.6,185.7 507.6,185.7 508.7,185.6 509.7,185.6 510.7,185.5 511.7,185.5 512.7,185.5 513.7,185.4 514.7,185.4 515.7,185.3 516.7,185.3 517.7,185.3 518.7,185.2 519.8,185.2 520.8,185.1 521.8,185.1 522.8,185.0 523.8,185.0 524.8,185.0 525.8,184.9 526.8,184.9 527.8,184.8 528.8,184.8 529.8,184.7 530.8,184.7 531.8,184.6 532.9,184.6 533.9,184.6 534.9,184.5 535.9,184.5 536.9,184.4 537.9,184.4 538.9,184.3 539.9,184.3 540.9,184.3 541.9,184.2 542.9,184.2 543.9,184.1 544.9,184.1 545.9,184.1 546.9,184.0 547.9,184.0 548.9,183.9 549.9,183.9 550.9,183.9 551.9,183.8 552.9,183.8 553.9,183.7 554.9,183.7 555.9,183.7 556.9,183.6 557.9,183.6 558.9,183.6 559.9,183.5 560.9,183.5 561.9,183.5 562.9,183.4 563.9,183.4 564.9,183.3 565.9,183.3 566.9,183.3 567.9,183.2 568.9,183.2 569.9,183.2 570.9,183.1 571.9,183.1 572.9,183.1 573.9,183.0 574.9,183.0 575.9,183.0 576.9,182.9 577.9,182.9 578.9,182.9 579.9,182.8 580.9,182.8 581.9,182.8 582.9,182.7 583.9,182.7 584.9,182.7 585.9,182.6 586.9,182.6 587.8,182.6 588.8,182.5 589.8,182.5 590.8,182.4 591.8,182.4 592.8,182.4 593.8,182.3 594.8,182.3 595.8,182.3 596.8,182.2 597.8,182.2 598.8,182.2 599.8,182.1 600.8,182.1 601.8,182.0 602.8,182.0 603.8,182.0 604.8,181.9 605.7,181.9 606.7,181.8 607.7,181.8 608.7,181.8 609.7,181.7 610.7,181.7 611.7,181.6 612.7,181.6 613.7,181.5 614.7,181.5 615.7,181.5 616.7,181.4 617.7,181.4 618.7,181.3 619.7,181.3 620.7,181.2 621.7,181.2 622.6,181.1 623.6,181.1 624.6,181.0 625.6,181.0 626.6,180.9 627.6,180.9 628.6,180.8 629.6,180.8 630.6,180.7 631.6,180.7 632.6,180.6 633.6,180.6 634.6,180.5 635.6,180.5 636.6,180.4 637.6,180.4 638.6,180.3 639.6,180.2 640.6,180.2 641.6,180.1 642.6,180.1 643.6,180.0 644.5,179.9 645.5,179.9 646.5,179.8 647.5,179.8 648.5,179.7 649.5,179.6 650.5,179.6 651.5,179.5 652.5,179.4 653.5,179.3 654.5,179.3 655.5,179.2 656.5,179.1 657.5,179.1 658.5,179.0 659.5,178.9 660.5,178.8 661.5,178.8 662.5,178.7 663.5,178.6 664.5,178.5 665.5,178.4 666.5,178.4 667.5,178.3 668.5,178.2 669.5,178.1 670.5,178.0 671.5,177.9 672.5,177.8 673.5,177.7 674.5,177.6 675.5,177.5 676.5,177.4 677.5,177.3 678.5,177.2 679.5,177.1 680.5,177.0 681.5,176.9 682.5,176.7 683.5,176.6 684.5,176.5 685.5,176.4 686.5,176.2 687.5,176.1 688.5,175.9 689.5,175.8 690.4,175.6 691.4,175.5 692.4,175.3 693.4,175.1 694.4,175.0 695.4,174.8 696.3,174.6 697.3,174.4 698.3,174.2 699.3,174.0 700.2,173.8 701.2,173.6 702.2,173.4 703.1,173.1 704.1,172.9 705.1,172.7 706.0,172.4 707.0,172.2 707.9,171.9 708.9,171.6 709.9,171.4 710.8,171.1 711.7,170.8 712.7,170.5 713.6,170.2 714.6,169.9 715.5,169.5 716.4,169.2 717.4,168.9 718.3,168.5 719.2,168.2 720.2,167.8 721.1,167.4 722.0,167.0 722.9,166.6 723.8,166.2 724.7,165.8 725.6,165.4 726.5,165.0 727.4,164.5 728.3,164.1 729.2,163.6 730.1,163.1 731.0,162.6 731.8,162.1 732.7,161.6 733.6,161.1 734.5,160.6 735.3,160.1 736.2,159.5 737.0,159.0 737.9,158.4 738.7,157.8 739.6,157.3 740.4,156.7 741.3,156.1 742.1,155.5 742.9,154.9 743.7,154.3 744.6,153.7 745.4,153.0 746.2,152.4 747.0,151.8 747.8,151.1 748.6,150.5 749.4,149.8 750.2,149.2 751.0,148.5 751.7,147.9 752.5,147.2 753.3,146.5 754.0,145.9 754.8,145.2 755.5,144.5 756.3,143.8 757.0,143.2 757.8,142.5 758.5,141.8 759.2,141.1 760.0,140.5 760.7,139.8 761.4,139.1 762.1,138.4 762.8,137.7 763.5,137.0 764.2,136.4 764.9,135.7 765.6,135.0 766.3,134.3 766.9,133.6 767.6,132.9 768.3,132.2 769.0,131.6 769.7,130.9 770.3,130.2 771.0,129.5 771.7,128.8 772.4,128.1 773.0,127.4 773.7,126.7 774.4,126.0 775.1,125.3 775.7,124.6 776.4,123.9 777.1,123.2 777.8,122.5 778.5,121.8 779.2,121.0 779.9,120.3 780.6,119.6 781.3,118.9 782.0,118.2 782.7,117.4 783.4,116.7 784.1,116.0 784.8,115.3 785.6,114.5 786.3,113.8 787.0,113.1 787.8,112.3 788.6,111.6 789.3,110.9 790.1,110.2 790.9,109.5 791.7,108.8 792.5,108.2 793.3,107.5 794.1,106.9 794.9,106.4 795.7,105.8 796.6,105.3 797.5,104.8 798.3,104.4 799.2,104.0 800.1,103.6 801.0,103.3 801.9,103.0 802.8,102.7 803.8,102.5 804.7,102.4 805.6,102.2 806.6,102.1 807.6,102.0 808.5,102.0 809.5,101.9 810.5,101.9 811.5,102.0 812.5,102.0 813.5,102.1 814.5,102.2 815.5,102.3 816.5,102.4 817.5,102.5 818.5,102.7 819.5,102.8 820.5,103.0 821.5,103.2 822.6,103.4 823.6,103.6 824.6,103.8 825.6,104.0 826.6,104.3 827.6,104.5 828.6,104.7 829.6,104.9 830.6,105.2 831.6,105.4 832.6,105.6 833.6,105.9 834.6,106.1 835.5,106.4 836.5,106.6 837.5,106.8 838.5,107.1 839.5,107.3 840.5,107.6 841.4,107.8 842.4,108.0 843.4,108.3 844.4,108.5 845.3,108.8 846.3,109.0 847.3,109.3 848.2,109.5 849.2,109.7 850.2,110.0 851.2,110.2 852.1,110.4 853.1,110.7 854.1,110.9 855.0,111.1 856.0,111.3 857.0,111.5 857.9,111.8 858.9,112.0 859.9,112.2 860.8,112.4 861.8,112.6 862.8,112.8 863.7,113.0 864.7,113.2 865.7,113.3 866.6,113.5 867.6,113.7 868.6,113.9 869.5,114.0 870.5,114.2 871.5,114.3 872.4,114.5 873.4,114.6 874.4,114.7 875.4,114.9 876.3,115.0 877.3,115.1 878.3,115.2 879.3,115.3 880.3,115.4 881.2,115.4 882.2,115.5 883.2,115.6 884.2,115.6 885.2,115.7 886.2,115.7 887.2,115.8 888.2,115.8 889.2,115.8 890.2,115.8 891.2,115.8 892.2,115.8 893.2,115.8 894.2,115.8 895.2,115.8 896.2,115.8 897.2,115.8 898.2,115.8 899.2,115.7 900.2,115.7 901.2,115.7 902.2,115.6 903.2,115.6 904.2,115.5 905.2,115.5 906.2,115.4 907.2,115.4 908.3,115.3 909.3,115.2 910.3,115.2 911.3,115.1 912.3,115.0 913.3,115.0 914.3,114.9 915.3,114.8 916.4,114.8 917.4,114.7 918.4,114.6 919.4,114.5 920.4,114.4 921.4,114.4 922.4,114.3 923.5,114.2 924.5,114.1 925.5,114.1 926.5,114.0 927.5,113.9 928.5,113.8 929.5,113.8 930.5,113.7 931.6,113.6 932.6,113.5 933.6,113.5 934.6,113.4 935.6,113.3 936.6,113.3 937.6,113.2 938.6,113.2 939.6,113.1 940.6,113.1 941.6,113.0 942.7,113.0 943.7,113.0 944.7,112.9 945.7,112.9 946.7,112.9 947.7,112.8 948.7,112.8 949.7,112.8 950.7,112.8 951.7,112.8 952.7,112.8 953.7,112.8 954.6,112.9 955.6,112.9 956.6,112.9 957.6,112.9 958.6,113.0 959.6,113.0 960.6,113.1 961.6,113.2 962.5,113.2 963.5,113.3 964.5,113.4 966.3,113.2 966.4,114.2 966.5,115.1 966.6,116.1 966.7,117.1 966.8,118.0 966.9,119.0 967.0,120.0 967.1,120.9 967.2,121.9 967.2,122.9 967.3,123.9 967.4,124.9 967.5,125.9 967.6,126.9 967.7,127.9 967.7,128.9 967.8,129.9 967.9,130.8 968.0,131.8 968.0,132.9 968.1,133.9 968.1,134.9 968.2,135.9 968.3,136.9 968.3,137.9 968.4,138.9 968.4,139.9 968.4,140.9 968.5,141.9 968.5,142.9 968.5,143.9 968.5,145.0 968.6,146.0 968.6,147.0 968.6,148.0 968.6,149.0 968.6,150.0 968.5,151.0 968.5,152.0 968.5,153.1 968.5,154.1 968.4,155.1 968.4,156.1 968.3,157.1 968.3,158.1 968.2,159.1 968.1,160.1 968.1,161.2 968.0,162.2 967.9,163.2 967.8,164.2 967.7,165.2 967.6,166.2 967.4,167.2 967.3,168.2 967.2,169.2 967.0,170.2 966.8,171.2 966.7,172.2 966.5,173.2 966.3,174.1 966.1,175.1 965.9,176.1 965.7,177.1 965.5,178.1 965.2,179.1 965.0,180.0 964.7,181.0 964.4,182.0 964.2,182.9 963.9,183.9 963.6,184.9 963.3,185.8 962.9,186.8 962.6,187.7 962.3,188.6 961.9,189.6 961.6,190.5 961.2,191.4 960.8,192.4 960.4,193.3 960.0,194.2 959.6,195.1 959.2,196.0 958.7,196.9 958.3,197.8 957.8,198.7 957.3,199.5 956.9,200.4 956.4,201.2 955.9,202.1 955.4,202.9 954.8,203.8 954.3,204.6 953.7,205.4 953.2,206.2 952.6,207.0 952.0,207.8 951.5,208.6 950.8,209.3 950.2,210.1 949.6,210.9 949.0,211.6 948.3,212.3 947.7,213.0 947.0,213.7 946.3,214.4 945.6,215.1 944.9,215.8 944.2,216.5 943.5,217.1 942.7,217.7 942.0,218.4 941.2,219.0 940.4,219.6 939.7,220.2 938.9,220.7 938.0,221.3 937.2,221.8 936.4,222.4 935.5,222.9 934.7,223.4 933.8,223.9 933.0,224.4 932.1,224.8 931.2,225.3 930.3,225.7 929.4,226.2 928.4,226.6 927.5,227.0 926.6,227.4 925.7,227.8 924.7,228.2 923.8,228.6 922.8,229.0 921.9,229.4 920.9,229.7 919.9,230.1 919.0,230.5 918.0,230.8 917.0,231.2 916.0,231.5 915.1,231.9 914.1,232.2 913.1,232.6 912.1,232.9 911.1,233.2 910.2,233.6 909.2,233.9 908.2,234.2 907.2,234.6 906.3,234.9 905.3,235.2 904.3,235.6 903.4,235.9 902.4,236.3 901.5,236.6 900.5,236.9 899.6,237.3 898.6,237.7 897.7,238.0 896.8,238.4 895.8,238.7 894.9,239.1 894.0,239.5 893.1,239.9 892.2,240.2 891.3,240.6 890.3,241.0 889.4,241.4 888.5,241.8 887.6,242.2 886.7,242.6 885.8,243.0 885.0,243.4 884.1,243.8 883.2,244.2 882.3,244.6 881.4,245.0 880.5,245.4 879.6,245.8 878.7,246.2 877.8,246.6 876.9,247.1 876.0,247.5 875.1,247.9 874.2,248.3 873.3,248.7 872.4,249.2 871.5,249.6 870.6,250.0 869.7,250.5 868.8,250.9 867.9,251.3 867.0,251.7 866.1,252.2 865.2,252.6 864.3,253.0 863.4,253.5 862.5,253.9 861.6,254.4 860.7,254.8 859.8,255.2 858.9,255.7 857.9,256.1 857.0,256.6 856.1,257.0 855.2,257.5 854.3,257.9 853.4,258.4 852.5,258.8 851.6,259.3 850.7,259.7 849.8,260.2 848.9,260.6 848.0,261.1 847.1,261.5 846.2,262.0 845.2,262.4 844.3,262.9 843.4,263.3 842.5,263.8 841.6,264.2 840.7,264.7 839.8,265.2 838.9,265.6 838.0,266.1 837.1,266.5 836.3,267.0 835.4,267.5 834.5,267.9 833.6,268.4 832.7,268.8 831.8,269.3 830.9,269.8 830.0,270.2 829.1,270.7 828.3,271.1 827.4,271.6 826.5,272.1 825.6,272.5 824.8,273.0 823.9,273.5 823.0,273.9 822.1,274.4 821.3,274.8 820.4,275.3 819.5,275.8 818.7,276.2 817.8,276.7 817.0,277.2 816.1,277.6 815.2,278.1 814.4,278.6 813.5,279.1 812.7,279.5 811.8,280.0 810.9,280.5 810.1,281.0 809.2,281.5 808.4,281.9 807.5,282.4 806.6,282.9 805.8,283.4 804.9,283.9 804.0,284.4 803.2,284.9 802.3,285.4 801.4,285.9 800.6,286.4 799.7,287.0 798.8,287.5 797.9,288.0 797.1,288.5 796.2,289.0 795.3,289.6 794.4,290.1 793.5,290.6 792.6,291.2 791.7,291.7 790.8,292.2 789.9,292.8 789.0,293.3 788.1,293.8 787.2,294.3 786.3,294.9 785.4,295.4 784.5,295.9 783.6,296.4 782.7,296.8 781.8,297.3 780.9,297.8 780.0,298.3 779.0,298.7 778.1,299.1 777.2,299.6 776.3,300.0 775.3,300.4 774.4,300.8 773.5,301.1 772.6,301.5 771.6,301.8 770.7,302.1 769.8,302.4 768.8,302.7 767.9,303.0 766.9,303.2 766.0,303.4 765.1,303.6 764.1,303.8 763.2,304.0 762.2,304.1 761.3,304.2 760.3,304.3 759.4,304.4 758.4,304.4 757.5,304.4 756.5,304.4 755.6,304.3 754.6,304.3 753.7,304.2 752.7,304.1 751.8,303.9 750.8,303.8 749.9,303.6 748.9,303.4 747.9,303.2 747.0,303.0 746.0,302.7 745.1,302.5 744.1,302.2 743.2,301.9 742.2,301.6 741.3,301.3 740.3,300.9 739.4,300.6 738.4,300.2 737.5,299.9 736.5,299.5 735.6,299.1 734.6,298.7 733.7,298.3 732.7,297.9 731.8,297.5 730.8,297.1 729.9,296.7 728.9,296.3 728.0,295.9 727.1,295.4 726.1,295.0 725.2,294.6 724.3,294.1 723.4,293.7 722.4,293.3 721.5,292.9 720.6,292.4 719.7,292.0 718.7,291.6 717.8,291.1 716.9,290.7 716.0,290.3 715.1,289.8 714.2,289.4 713.3,289.0 712.4,288.6 711.4,288.1 710.5,287.7 709.6,287.3 708.7,286.9 707.8,286.4 706.9,286.0 706.0,285.6 705.1,285.2 704.2,284.7 703.3,284.3 702.4,283.9 701.5,283.5 700.6,283.1 699.7,282.7 698.8,282.3 697.9,281.9 697.0,281.4 696.0,281.0 695.1,280.6 694.2,280.2 693.3,279.8 692.4,279.5 691.5,279.1 690.6,278.7 689.7,278.3 688.8,277.9 687.9,277.5 687.0,277.1 686.0,276.8 685.1,276.4 684.2,276.0 683.3,275.6 682.4,275.3 681.4,274.9 680.5,274.6 679.6,274.2 678.7,273.8 677.7,273.5 676.8,273.2 675.9,272.8 674.9,272.5 674.0,272.1 673.0,271.8 672.1,271.5 671.2,271.2 670.2,270.8 669.3,270.5 668.3,270.2 667.3,269.9 666.4,269.6 665.4,269.3 664.5,269.0 663.5,268.7 662.5,268.5 661.6,268.2 660.6,267.9 659.6,267.6 658.6,267.4 657.7,267.1 656.7,266.8 655.7,266.6 654.7,266.3 653.7,266.1 652.8,265.9 651.8,265.6 650.8,265.4 649.8,265.1 648.8,264.9 647.8,264.7 646.9,264.5 645.9,264.3 644.9,264.1 643.9,263.8 642.9,263.6 641.9,263.4 640.9,263.2 639.9,263.1 639.0,262.9 638.0,262.7 637.0,262.5 636.0,262.3 635.0,262.1 634.0,261.9 633.1,261.7 632.1,261.5 631.1,261.3 630.1,261.1 629.2,260.9 628.2,260.7 627.3,260.4 626.3,260.2 625.4,259.9 624.4,259.6 623.5,259.3 622.5,259.0 621.6,258.6 620.7,258.3 619.8,257.9 618.9,257.5 618.0,257.1 617.1,256.7 616.2,256.3 615.3,255.9 614.4,255.4 613.5,255.0 612.6,254.5 611.7,254.1 610.8,253.6 610.0,253.2 609.1,252.7 608.2,252.2 607.3,251.7 606.4,251.3 605.5,250.8 604.7,250.3 603.8,249.8 602.9,249.4 602.0,248.9 601.1,248.5 600.2,248.0 599.3,247.6 598.4,247.1 597.5,246.7 596.6,246.3 595.7,245.9 594.8,245.5 593.9,245.1 593.0,244.7 592.0,244.3 591.1,243.9 590.2,243.6 589.3,243.2 588.3,242.9 587.4,242.5 586.5,242.2 585.5,241.9 584.6,241.6 583.6,241.3 582.7,241.0 581.7,240.7 580.8,240.4 579.8,240.2 578.9,239.9 577.9,239.7 576.9,239.4 576.0,239.2 575.0,239.0 574.0,238.8 573.0,238.6 572.1,238.4 571.1,238.2 570.1,238.1 569.1,237.9 568.1,237.7 567.1,237.6 566.2,237.4 565.2,237.3 564.2,237.2 563.2,237.0 562.2,236.9 561.2,236.8 560.2,236.7 559.2,236.6 558.2,236.5 557.2,236.4 556.2,236.3 555.2,236.3 554.2,236.2 553.2,236.1 552.2,236.1 551.2,236.0 550.1,235.9 549.1,235.9 548.1,235.8 547.1,235.8 546.1,235.7 545.1,235.7 544.1,235.7 543.1,235.6 542.1,235.6 541.1,235.5 540.0,235.5 539.0,235.5 538.0,235.5 537.0,235.4 536.0,235.4 535.0,235.4 534.0,235.3 533.0,235.3 532.0,235.3 530.9,235.3 529.9,235.2 528.9,235.2 527.9,235.2 526.9,235.2 525.9,235.1 524.9,235.1 523.9,235.1 522.9,235.0 521.9,235.0 520.9,235.0 519.9,234.9 518.9,234.9 517.9,234.9 516.9,234.8 515.9,234.8 514.9,234.8 513.9,234.7 512.9,234.7 511.9,234.7 510.9,234.6 509.9,234.6 508.9,234.6 507.9,234.5 506.9,234.5 505.9,234.5 504.9,234.4 503.9,234.4 502.9,234.4 501.9,234.3 500.9,234.3 499.9,234.3 499.0,234.2 498.0,234.2 497.0,234.2 496.0,234.1 495.0,234.1 494.0,234.1 493.0,234.0 492.0,234.0 491.0,234.0 490.0,233.9 489.0,233.9 488.0,233.9 487.0,233.8 486.1,233.8 485.1,233.8 484.1,233.8 483.1,233.7 482.1,233.7 481.1,233.7 480.1,233.6 479.1,233.6 478.1,233.6 477.1,233.6 476.1,233.5 475.1,233.5 474.2,233.5 473.2,233.5 472.2,233.5 471.2,233.4 470.2,233.4 469.2,233.4 468.2,233.4 467.2,233.4 466.2,233.4 465.2,233.4 464.2,233.3 463.2,233.3 462.2,233.3 461.2,233.3 460.2,233.3 459.2,233.3 458.2,233.3 457.2,233.3 456.3,233.3 455.3,233.3 454.3,233.3 453.3,233.3 452.3,233.3 451.3,233.3 450.3,233.3 449.3,233.3 448.3,233.3 447.3,233.3 446.3,233.4 445.2,233.4 444.2,233.4 443.2,233.4 442.2,233.4 441.2,233.4 440.2,233.5 439.2,233.5 438.2,233.5 437.2,233.5 436.2,233.6 435.2,233.6 434.2,233.6 433.2,233.7 432.2,233.7 431.2,233.8 430.1,233.8 429.1,233.9 428.1,233.9 427.1,234.0 426.1,234.0 425.1,234.1 424.1,234.1 423.1,234.2 422.1,234.2 421.0,234.3 420.0,234.4 419.0,234.5 418.0,234.5 417.0,234.6 416.0,234.7 415.0,234.8 414.0,234.9 413.0,235.0 412.0,235.1 411.0,235.2 410.0,235.3 408.9,235.4 407.9,235.5 406.9,235.6 405.9,235.7 404.9,235.9 403.9,236.0 402.9,236.1 401.9,236.3 400.9,236.4 399.9,236.5 398.9,236.7 397.9,236.8 397.0,237.0 396.0,237.2 395.0,237.3 394.0,237.5 393.0,237.7 392.0,237.9 391.0,238.1 390.0,238.2 389.1,238.4 388.1,238.6 387.1,238.9 386.1,239.1 385.2,239.3 384.2,239.5 383.2,239.7 382.2,240.0 381.3,240.2 380.3,240.5 379.3,240.7 378.4,241.0 377.4,241.2 376.5,241.5 375.5,241.8 374.6,242.1 373.6,242.4 372.7,242.6 371.7,242.9 370.8,243.3 369.8,243.6 368.9,243.9 368.0,244.2 367.0,244.5 366.1,244.9 365.2,245.2 364.3,245.6 363.3,245.9 362.4,246.3 361.5,246.7 360.6,247.1 359.7,247.4 358.8,247.8 357.9,248.2 357.0,248.7 356.1,249.1 355.2,249.5 354.3,249.9 353.4,250.4 352.5,250.8 351.6,251.3 350.8,251.7 349.9,252.2 349.0,252.7 348.2,253.2 347.3,253.7 346.4,254.2 345.6,254.7 344.7,255.2 343.9,255.7 343.1,256.2 342.2,256.8 341.4,257.3 340.6,257.9 339.7,258.4 338.9,259.0 338.1,259.6 337.3,260.2 336.5,260.7 335.7,261.3 334.9,261.9 334.1,262.6 333.3,263.2 332.5,263.8 331.8,264.5 331.0,265.1 330.2,265.8 329.5,266.4 328.7,267.1 328.0,267.8 327.2,268.4 326.5,269.1 325.8,269.8 325.0,270.6 324.3,271.3 323.6,272.0 322.9,272.7 322.2,273.4 321.5,274.2 320.7,274.9 320.0,275.6 319.3,276.4 318.6,277.1 317.9,277.8 317.2,278.5 316.5,279.2 315.7,279.9 315.0,280.6 314.3,281.3 313.5,281.9 312.7,282.6 312.0,283.2 311.2,283.8 310.4,284.4 309.6,285.0 308.8,285.6 308.0,286.1 307.2,286.6 306.3,287.1 305.5,287.6 304.6,288.1 303.7,288.6 302.9,289.1 302.0,289.5 301.1,289.9 300.2,290.4 299.3,290.8 298.4,291.2 297.5,291.6 296.5,292.0 295.6,292.4 294.7,292.7 293.8,293.1 292.8,293.5 291.9,293.8 290.9,294.2 290.0,294.6 289.0,294.9 288.1,295.3 287.1,295.6 286.2,296.0 285.2,296.3 284.3,296.7 283.3,297.1 282.4,297.4 281.4,297.8 280.5,298.2 279.6,298.5 278.6,298.9 277.7,299.3 276.7,299.7 275.8,300.1 274.9,300.5 274.0,301.0 273.0,301.4 272.1,301.8 271.2,302.3 270.4,302.8 269.5,303.2 268.6,303.7 267.8,304.3 266.9,304.8 266.1,305.3 265.3,305.9 264.5,306.4 263.7,307.0 262.9,307.6 262.1,308.3 261.4,308.9 260.7,309.6 259.9,310.2 259.2,310.9 258.6,311.7 257.9,312.4 257.3,313.2 256.6,313.9 256.0,314.7 255.4,315.5 254.8,316.3 254.2,317.1 253.6,317.9 253.1,318.8 252.5,319.6 252.0,320.5 251.4,321.3 250.9,322.2 250.4,323.0 249.8,323.9 249.3,324.7 248.8,325.6 248.3,326.4 247.8,327.3 247.3,328.2 246.8,329.1 246.4,329.9 245.9,330.8 245.4,331.7 244.9,332.6 244.5,333.4 244.0,334.3 243.6,335.2 243.1,336.1 242.7,337.0 242.3,337.9 241.8,338.8 241.4,339.7 241.0,340.6 240.6,341.5 240.2,342.4 239.8,343.3 239.4,344.2 239.0,345.1 238.6,346.1 238.2,347.0 237.8,347.9 237.4,348.8 237.1,349.7 236.7,350.7 236.3,351.6 236.0,352.5 235.6,353.4 235.3,354.4 234.9,355.3 234.6,356.2 234.3,357.2 233.9,358.1 233.6,359.1 233.3,360.0 232.9,360.9 232.6,361.9 232.3,362.8 232.0,363.8 231.7,364.7 231.4,365.7 231.1,366.6 230.8,367.6 230.5,368.5 230.2,369.5 229.9,370.4 229.6,371.4 229.3,372.4 229.0,373.3 228.7,374.3 228.4,375.2 228.2,376.2 227.9,377.2 227.6,378.1 227.3,379.1 227.1,380.1 226.8,381.0 226.5,382.0 226.3,383.0 226.0,383.9 225.8,384.9 225.5,385.9 225.3,386.8 225.0,387.8 224.8,388.8 224.5,389.8 224.3,390.7 224.0,391.7 223.8,392.7 223.5,393.7 223.3,394.6 223.1,395.6 222.8,396.6 222.6,397.6 222.3,398.6 222.1,399.5 221.9,400.5 221.6,401.5 221.4,402.5 221.2,403.4 220.9,404.4 220.7,405.4 220.5,406.4 220.2,407.4 220.0,408.3 219.8,409.3 219.5,410.3 219.3,411.3 219.1,412.3 218.9,413.2 218.6,414.2 218.4,415.2 218.2,416.2 217.9,417.2 217.7,418.1 217.5,419.1 217.3,420.1 217.0,421.1 216.8,422.1 216.6,423.0 216.4,424.0 216.1,425.0 215.9,426.0 215.7,426.9 215.5,427.9 215.2,428.9 215.0,429.9 214.8,430.9 214.6,431.8 214.3,432.8 214.1,433.8 213.9,434.8 213.7,435.8 213.5,436.7 213.2,437.7 213.0,438.7 212.8,439.7 212.6,440.7 212.4,441.6 212.1,442.6 211.9,443.6 211.7,444.6 211.5,445.5 211.3,446.5 211.1,447.5 210.9,448.5 210.6,449.5 210.4,450.4 210.2,451.4 210.0,452.4 209.8,453.4 209.6,454.4 209.4,455.3 209.2,456.3 209.0,457.3 208.8,458.3 208.5,459.3 208.3,460.2 208.1,461.2 207.9,462.2 207.7,463.2 207.5,464.2 207.3,465.1 207.1,466.1 206.9,467.1 206.7,468.1 206.5,469.1 206.3,470.0 206.1,471.0 205.9,472.0 205.7,473.0 205.5,474.0 205.3,474.9 205.1,475.9 205.0,476.9 204.8,477.9 204.6,478.9 204.4,479.8 204.2,480.8 204.0,481.8 203.8,482.8 203.6,483.8 203.5,484.8 203.3,485.7 203.1,486.7 202.9,487.7 202.7,488.7 202.5,489.7 202.4,490.6 202.2,491.6 202.0,492.6 201.8,493.6 201.7,494.6 201.5,495.6 201.3,496.5 201.2,497.5 201.0,498.5 200.8,499.5 200.6,500.5 200.5,501.5 200.3,502.4 200.2,503.4 200.0,504.4 199.8,505.4 199.7,506.4 199.5,507.4 199.3,508.4 199.2,509.3 199.0,510.3 198.9,511.3 198.7,512.3 198.6,513.3 198.4,514.3 198.3,515.3 198.1,516.2 198.0,517.2 197.8,518.2 197.7,519.2 197.6,520.2 197.4,521.2 197.3,522.2 197.1,523.2 197.0,524.1 196.9,525.1 196.7,526.1 196.6,527.1 196.5,528.1 196.3,529.1 196.2,530.1 196.1,531.1 196.0,532.1 195.8,533.0 195.7,534.0 195.6,535.0 195.5,536.0 195.4,537.0 195.2,538.0 195.1,539.0 195.0,540.0 194.9,541.0 194.8,542.0 194.7,543.0 194.6,544.0 194.5,544.9 194.4,545.9 194.3,546.9 194.2,547.9 194.1,548.9 194.0,549.9 193.9,550.9 193.8,551.9 193.7,552.9 193.6,553.9 193.5,554.9 193.4,555.9 193.3,556.9 193.3,557.9 193.2,558.9 193.1,559.9 193.0,560.9 192.9,561.9 192.9,562.9 192.8,563.9 192.7,564.9 192.7,565.9 192.6,566.9 192.5,567.9 192.5,568.9 192.4,569.9 192.3,570.9 192.3,571.9 192.2,572.9 192.2,573.9 192.1,574.9 192.1,575.9 192.0,576.9 192.0,577.9 191.9,578.9 191.9,579.9 191.9,580.9 191.8,581.9 191.8,582.9 191.8,583.9 191.7,584.9 191.7,585.9 191.7,586.9 191.6,587.9 191.6,588.9 191.6,589.9 191.6,590.9 191.6,591.9 191.5,592.9 191.5,593.9 191.5,595.0 191.5,596.0 191.5,597.0 191.5,598.0 191.5,599.0 191.5,600.0" fill="none" stroke="#ED7D31" stroke-width="2.8" stroke-linejoin="round" stroke-linecap="butt" clip-path="url(#clipa)"/>
<path d="M186.6,556.0 186.6,555.0 186.6,554.0 186.6,553.0 186.6,552.0 186.6,551.0 186.6,550.0 186.6,549.0 186.6,548.0 186.6,547.0 186.6,546.0 186.6,545.0 186.6,544.0 186.6,543.0 186.6,542.0 186.6,541.0 186.6,540.0 186.6,539.0 186.6,538.0 186.6,537.0 186.6,535.9 186.6,534.9 186.6,533.9 186.6,532.9 186.7,531.9 186.7,530.9 186.7,529.9 186.7,528.9 186.7,527.9 186.7,526.9 186.7,525.9 186.7,524.9 186.7,523.9 186.7,522.9 186.7,521.9 186.7,520.9 186.7,519.9 186.7,518.9 186.7,517.9 186.8,516.9 186.8,515.9 186.8,514.9 186.8,513.9 186.8,512.9 186.8,511.9 186.8,510.9 186.8,509.9 186.8,508.9 186.8,507.9 186.9,506.9 186.9,505.9 186.9,504.9 186.9,503.9 186.9,502.9 186.9,501.9 186.9,500.9 186.9,499.9 186.9,498.9 187.0,497.9 187.0,496.9 187.0,495.9 187.0,494.9 187.0,493.9 187.0,492.9 187.0,491.9 187.1,490.9 187.1,489.9 187.1,488.9 187.1,487.9 187.1,486.9 187.1,485.9 187.1,484.9 187.2,483.9 187.2,482.9 187.2,481.9 187.2,480.9 187.2,479.9 187.2,478.9 187.3,477.9 187.3,476.9 187.3,475.9 187.3,474.9 187.3,473.9 187.3,472.9 187.4,471.9 187.4,470.9 187.4,469.9 187.4,468.9 187.4,467.9 187.5,466.9 187.5,465.9 187.5,464.9 187.5,463.9 187.5,462.9 187.6,461.9 187.6,460.9 187.6,459.9 187.6,458.9 187.6,457.9 187.7,456.9 187.7,455.9 187.7,454.9 187.7,453.9 187.7,452.9 187.8,451.9 187.8,450.9 187.8,449.9 187.8,448.9 187.8,447.9 187.9,446.9 187.9,445.9 187.9,444.9 187.9,443.9 188.0,442.9 188.0,441.9 188.0,440.9 188.0,439.8 188.1,438.8 188.1,437.8 188.1,436.8 188.1,435.8 188.2,434.8 188.2,433.8 188.2,432.8 188.2,431.8 188.3,430.8 188.3,429.8 188.3,428.8 188.3,427.8 188.4,426.8 188.4,425.8 188.4,424.8 188.4,423.8 188.5,422.8 188.5,421.8 188.5,420.8 188.5,419.8 188.6,418.8 188.6,417.8 188.6,416.8 188.6,415.8 188.7,414.8 188.7,413.8 188.7,412.8 188.8,411.8 188.8,410.8 188.8,409.8 188.8,408.8 188.9,407.8 188.9,406.8 188.9,405.8 189.0,404.8 189.0,403.8 189.0,402.8 189.0,401.8 189.1,400.8 189.1,399.8 189.1,398.8 189.2,397.8 189.2,396.8 189.2,395.8 189.3,394.8 189.3,393.8 189.3,392.8 189.3,391.8 189.4,390.8 189.4,389.8 189.4,388.8 189.5,387.8 189.5,386.8 189.5,385.8 189.6,384.8 189.6,383.8 189.6,382.8 189.7,381.8 189.7,380.8 189.7,379.8 189.8,378.8 189.8,377.8 189.8,376.8 189.9,375.8 189.9,374.8 189.9,373.8 190.0,372.8 190.0,371.8 190.0,370.8 190.1,369.8 190.1,368.8 190.1,367.8 190.2,366.8 190.2,365.8 190.2,364.8 190.3,363.8 190.3,362.8 190.3,361.8 190.4,360.8 190.4,359.8 190.4,358.8 190.5,357.8 190.5,356.8 190.5,355.8 190.6,354.8 190.6,353.8 190.6,352.8 190.7,351.8 190.7,350.8 190.7,349.8 190.8,348.8 190.8,347.8 190.8,346.8 190.9,345.8 190.9,344.8 191.0,343.8 191.0,342.8 191.0,341.8 191.1,340.8 191.1,339.8 191.1,338.8 191.2,337.8 191.2,336.8 191.2,335.8 191.3,334.8 191.3,333.8 191.4,332.8 191.4,331.8 191.4,330.8 191.5,329.8 191.5,328.8 191.5,327.8 191.6,326.8 191.6,325.8 191.7,324.8 191.7,323.8 191.7,322.8 191.8,321.8 191.8,320.8 191.8,319.8 191.9,318.8 191.9,317.8 192.0,316.8 192.0,315.8 192.0,314.8 192.1,313.8 192.1,312.8 192.1,311.8 192.2,310.8 192.2,309.8 192.3,308.8 192.3,307.8 192.3,306.8 192.4,305.8 192.4,304.8 192.5,303.8 192.5,302.8 192.5,301.8 192.6,300.8 192.6,299.8 192.7,298.8 192.7,297.8 192.7,296.8 192.8,295.8 192.8,294.8 192.8,293.8 192.9,292.8 192.9,291.8 193.0,290.8 193.0,289.8 193.0,288.8 193.1,287.8 193.1,286.8 193.2,285.8 193.2,284.8 193.2,283.8 193.3,282.8 193.3,281.8 193.4,280.8 193.4,279.8 193.4,278.8 193.5,277.8 193.5,276.8 193.6,275.8 193.6,274.8 193.6,273.8 193.7,272.8 193.7,271.8 193.8,270.8 193.8,269.8 193.8,268.8 193.9,267.8 193.9,266.8 194.0,265.8 194.0,264.8 194.1,263.8 194.1,262.8 194.1,261.7 194.2,260.7 194.2,259.7 194.3,258.7 194.3,257.7 194.3,256.7 194.4,255.7 194.4,254.7 194.5,253.7 194.5,252.7 194.5,251.7 194.6,250.7 194.6,249.7 194.7,248.7 194.7,247.7 194.7,246.7 194.8,245.7 194.8,244.7 194.9,243.7 194.9,242.7 195.0,241.7 195.0,240.7 195.0,239.7 195.1,238.7 195.1,237.7 195.2,236.7 195.2,235.7 195.3,234.7 195.3,233.7 195.3,232.7 195.4,231.7 195.4,230.7 195.5,229.7 195.5,228.7 195.6,227.7 195.6,226.7 195.6,225.7 195.7,224.7 195.7,223.7 195.8,222.7 195.8,221.7 195.9,220.7 195.9,219.7 196.0,218.7 196.0,217.6 196.0,216.6 196.1,215.6 196.1,214.6 196.2,213.6 196.2,212.6 196.3,211.6 196.3,210.6 196.4,209.6 196.4,208.6 196.5,207.6 196.5,206.6 196.6,205.6 196.6,204.6 196.7,203.6 196.7,202.6 196.8,201.6 196.8,200.6 196.9,199.6 196.9,198.6 197.0,197.6 197.0,196.6 197.1,195.6 197.1,194.6 197.2,193.6 197.2,192.6 197.3,191.6 197.3,190.6 197.4,189.6 197.4,188.6 197.5,187.6 197.6,186.6 197.6,185.6 197.7,184.6 197.7,183.6 197.8,182.6 197.8,181.6 197.9,180.6 197.9,179.6 198.0,178.6 198.1,177.6 198.1,176.6 198.2,175.6 198.2,174.6 198.3,173.6 198.4,172.6 198.4,171.6 198.5,170.6 198.5,169.6 198.6,168.6 198.7,167.6 198.7,166.6 198.8,165.6 198.9,164.6 198.9,163.7 199.0,162.7 199.0,161.7 199.1,160.7 199.2,159.7 199.2,158.7 199.3,157.7 199.4,156.7 199.4,155.7 199.5,154.7 199.6,153.7 199.7,152.7 199.7,151.7 199.8,150.7 199.9,149.7 199.9,148.7 200.0,147.7 200.1,146.7 200.2,145.7 200.2,144.7 200.3,143.7 200.4,142.7 200.4,141.7 200.5,140.8 200.6,139.8 200.7,138.8 200.8,137.8 200.8,136.8 200.9,135.8 201.0,134.8 201.1,133.8 201.2,132.8 201.2,131.8 201.3,130.8 201.4,129.8 201.5,128.8 201.6,127.9 201.6,126.9 201.7,125.9 201.8,124.9 201.9,123.9 202.0,122.9 202.1,121.9 202.2,120.9 202.3,119.9 202.3,118.9 202.4,118.0 202.5,117.0 202.6,116.0 202.7,115.0 202.8,114.0 202.9,113.0 203.0,112.0 203.1,111.0 203.2,110.0 203.3,109.1 203.4,108.1 203.5,107.1 203.6,106.1 203.7,105.1 203.8,104.1 203.9,103.1 204.0,102.2 204.1,101.2 204.2,100.2 204.3,99.2 204.4,98.2 204.5,97.2 204.6,96.2 204.7,95.2 204.9,94.3 205.0,93.3 205.1,92.3 205.2,91.3 205.4,90.3 205.5,89.3 205.7,88.3 205.8,87.3 206.0,86.3 206.1,85.3 206.3,84.3 206.5,83.3 206.6,82.3 206.8,81.3 207.0,80.3 207.2,79.3 207.4,78.2 207.6,77.2 207.8,76.2 208.1,75.2 208.3,74.2 208.5,73.1 208.8,72.1 209.0,71.1 209.3,70.0 209.6,69.0 209.9,68.0 210.3,67.1 210.7,66.1 211.1,65.3 211.6,64.4 212.2,63.7 212.8,63.0 213.4,62.4 214.2,61.9 215.0,61.5 215.8,61.4 216.6,61.4 217.5,61.7 218.3,62.0 219.2,62.6 220.0,63.2 220.8,63.9 221.5,64.6 222.3,65.4 222.9,66.1 223.6,66.9 224.1,67.7 224.7,68.6 225.2,69.4 225.7,70.3 226.2,71.2 226.7,72.1 227.2,73.0 227.7,74.0 228.2,75.0 228.7,76.0 229.2,77.0 229.8,78.0 230.3,78.9 230.8,79.9 231.4,80.9 231.9,81.8 232.5,82.7 233.1,83.6 233.7,84.4 234.4,85.2 235.0,86.0 235.7,86.7 236.4,87.3 237.2,87.9 237.9,88.4 238.8,88.9 239.6,89.2 240.5,89.5 241.4,89.8 242.3,90.0 243.2,90.1 244.2,90.2 245.2,90.3 246.2,90.4 247.2,90.4 248.2,90.4 249.2,90.4 250.2,90.5 251.2,90.5 252.3,90.5 253.3,90.6 254.3,90.7 255.3,90.8 256.2,91.0 257.2,91.2 258.1,91.4 259.1,91.7 260.0,92.1 260.9,92.4 261.8,92.8 262.7,93.2 263.5,93.7 264.4,94.1 265.3,94.6 266.1,95.1 267.0,95.6 267.9,96.1 268.7,96.6 269.6,97.1 270.5,97.6 271.3,98.0 272.2,98.5 273.1,98.9 274.0,99.3 274.9,99.7 275.8,100.1 276.8,100.4 277.7,100.8 278.7,101.1 279.6,101.3 280.6,101.6 281.6,101.8 282.6,102.0 283.5,102.2 284.5,102.4 285.5,102.6 286.5,102.8 287.5,103.0 288.5,103.2 289.5,103.4 290.5,103.6 291.5,103.8 292.5,104.0 293.5,104.2 294.4,104.4 295.4,104.7 296.4,105.0 297.3,105.2 298.3,105.5 299.2,105.9 300.1,106.2 301.0,106.6 301.9,107.0 302.8,107.5 303.7,107.9 304.6,108.4 305.4,108.9 306.2,109.4 307.1,110.0 307.9,110.6 308.7,111.1 309.5,111.7 310.2,112.4 311.0,113.0 311.7,113.7 312.4,114.4 313.1,115.1 313.8,115.8 314.5,116.5 315.1,117.2 315.8,118.0 316.4,118.8 317.0,119.5 317.6,120.3 318.1,121.1 318.7,121.9 319.2,122.8 319.8,123.6 320.3,124.4 320.8,125.3 321.3,126.1 321.8,127.0 322.3,127.9 322.8,128.7 323.3,129.6 323.8,130.5 324.3,131.4 324.8,132.3 325.2,133.2 325.7,134.1 326.2,135.0 326.7,135.9 327.2,136.8 327.7,137.6 328.2,138.5 328.7,139.4 329.2,140.3 329.7,141.2 330.2,142.1 330.8,142.9 331.3,143.8 331.9,144.7 332.4,145.5 333.0,146.4 333.6,147.2 334.2,148.0 334.8,148.8 335.4,149.7 336.0,150.4 336.7,151.2 337.3,152.0 338.0,152.8 338.7,153.5 339.3,154.2 340.0,154.9 340.8,155.6 341.5,156.3 342.2,156.9 343.0,157.6 343.7,158.2 344.5,158.8 345.3,159.4 346.1,159.9 346.9,160.4 347.8,161.0 348.6,161.4 349.5,161.9 350.3,162.4 351.2,162.8 352.1,163.2 353.0,163.6 353.9,164.0 354.8,164.4 355.8,164.7 356.7,165.1 357.6,165.4 358.6,165.7 359.5,166.1 360.5,166.4 361.4,166.7 362.4,167.0 363.4,167.3 364.3,167.6 365.3,167.9 366.3,168.2 367.2,168.5 368.2,168.8 369.2,169.1 370.2,169.4 371.1,169.7 372.1,170.0 373.1,170.3 374.0,170.6 375.0,170.9 375.9,171.3 376.9,171.6 377.9,171.9 378.8,172.2 379.8,172.6 380.7,172.9 381.7,173.2 382.6,173.6 383.6,173.9 384.5,174.2 385.5,174.5 386.4,174.9 387.4,175.2 388.3,175.5 389.3,175.8 390.2,176.1 391.2,176.5 392.2,176.8 393.1,177.1 394.1,177.4 395.0,177.6 396.0,177.9 396.9,178.2 397.9,178.5 398.9,178.8 399.8,179.0 400.8,179.3 401.8,179.6 402.7,179.8 403.7,180.0 404.7,180.3 405.6,180.5 406.6,180.8 407.6,181.0 408.5,181.2 409.5,181.4 410.5,181.6 411.5,181.9 412.4,182.1 413.4,182.3 414.4,182.5 415.4,182.7 416.3,182.8 417.3,183.0 418.3,183.2 419.3,183.4 420.3,183.6 421.2,183.7 422.2,183.9 423.2,184.1 424.2,184.2 425.2,184.4 426.2,184.5 427.2,184.7 428.1,184.8 429.1,184.9 430.1,185.1 431.1,185.2 432.1,185.3 433.1,185.5 434.1,185.6 435.1,185.7 436.1,185.8 437.1,185.9 438.0,186.0 439.0,186.1 440.0,186.2 441.0,186.3 442.0,186.4 443.0,186.5 444.0,186.6 445.0,186.7 446.0,186.8 447.0,186.9 448.0,186.9 449.0,187.0 450.0,187.1 451.0,187.2 452.0,187.2 453.0,187.3 454.0,187.4 455.0,187.4 456.0,187.5 457.0,187.5 458.0,187.6 459.0,187.6 460.0,187.7 461.0,187.7 462.0,187.8 463.0,187.8 464.0,187.9 465.0,187.9 466.0,187.9 467.0,188.0 468.0,188.0 469.0,188.0 470.0,188.1 471.0,188.1 472.0,188.1 473.0,188.1 474.0,188.2 475.0,188.2 476.0,188.2 477.0,188.2 478.0,188.2 479.0,188.3 480.0,188.3 481.0,188.3 482.0,188.3 483.0,188.3 484.0,188.3 485.0,188.3 486.0,188.3 487.0,188.3 488.0,188.3 489.0,188.3 490.0,188.3 491.0,188.3 492.0,188.3 493.0,188.3 494.0,188.3 495.0,188.3 496.0,188.3 497.0,188.3 498.1,188.3 499.1,188.3 500.1,188.3 501.1,188.3 502.1,188.3 503.1,188.3 504.1,188.3 505.1,188.2 506.1,188.2 507.1,188.2 508.1,188.2 509.1,188.2 510.1,188.2 511.1,188.1 512.1,188.1 513.1,188.1 514.1,188.1 515.1,188.1 516.1,188.0 517.1,188.0 518.1,188.0 519.1,188.0 520.1,187.9 521.1,187.9 522.1,187.9 523.1,187.9 524.1,187.8 525.1,187.8 526.1,187.8 527.1,187.7 528.1,187.7 529.1,187.7 530.1,187.6 531.1,187.6 532.1,187.6 533.1,187.5 534.1,187.5 535.1,187.5 536.1,187.4 537.1,187.4 538.1,187.4 539.1,187.3 540.1,187.3 541.1,187.2 542.1,187.2 543.1,187.2 544.1,187.1 545.1,187.1 546.1,187.1 547.1,187.0 548.1,187.0 549.1,186.9 550.1,186.9 551.1,186.9 552.1,186.8 553.1,186.8 554.1,186.7 555.1,186.7 556.1,186.6 557.1,186.6 558.1,186.6 559.1,186.5 560.1,186.5 561.1,186.4 562.1,186.4 563.1,186.3 564.1,186.3 565.1,186.3 566.1,186.2 567.1,186.2 568.1,186.1 569.1,186.1 570.1,186.0 571.1,186.0 572.1,185.9 573.1,185.9 574.1,185.9 575.1,185.8 576.1,185.8 577.1,185.7 578.1,185.7 579.1,185.6 580.1,185.6 581.1,185.6 582.1,185.5 583.1,185.5 584.1,185.4 585.1,185.4 586.1,185.3 587.1,185.3 588.1,185.3 589.1,185.2 590.1,185.2 591.1,185.1 592.1,185.1 593.1,185.1 594.1,185.0 595.1,185.0 596.1,184.9 597.1,184.9 598.1,184.9 599.1,184.8 600.1,184.8 601.1,184.7 602.1,184.7 603.1,184.7 604.1,184.6 605.1,184.6 606.1,184.6 607.1,184.5 608.1,184.5 609.1,184.5 610.1,184.4 611.1,184.4 612.1,184.4 613.1,184.3 614.1,184.3 615.1,184.3 616.1,184.2 617.1,184.2 618.1,184.2 619.1,184.1 620.1,184.1 621.1,184.1 622.1,184.0 623.1,184.0 624.1,184.0 625.1,183.9 626.1,183.9 627.1,183.9 628.1,183.8 629.1,183.8 630.1,183.8 631.1,183.7 632.1,183.7 633.1,183.7 634.1,183.6 635.1,183.6 636.1,183.6 637.1,183.5 638.1,183.5 639.1,183.5 640.1,183.4 641.1,183.4 642.1,183.3 643.1,183.3 644.1,183.3 645.1,183.2 646.1,183.2 647.1,183.2 648.1,183.1 649.1,183.1 650.1,183.1 651.1,183.0 652.1,183.0 653.1,182.9 654.1,182.9 655.1,182.9 656.1,182.8 657.1,182.8 658.1,182.7 659.1,182.7 660.1,182.7 661.1,182.6 662.1,182.6 663.1,182.5 664.1,182.5 665.1,182.4 666.1,182.4 667.1,182.3 668.1,182.3 669.1,182.3 670.1,182.2 671.1,182.2 672.1,182.1 673.1,182.0 674.2,182.0 675.2,181.9 676.2,181.9 677.2,181.8 678.2,181.8 679.2,181.7 680.2,181.6 681.2,181.6 682.1,181.5 683.1,181.4 684.1,181.4 685.1,181.3 686.1,181.2 687.1,181.1 688.1,181.0 689.1,181.0 690.1,180.9 691.1,180.8 692.1,180.7 693.1,180.6 694.1,180.5 695.1,180.4 696.1,180.3 697.1,180.2 698.1,180.0 699.1,179.9 700.1,179.8 701.1,179.7 702.1,179.6 703.1,179.4 704.0,179.3 705.0,179.1 706.0,179.0 707.0,178.9 708.0,178.7 709.0,178.5 710.0,178.4 711.0,178.2 712.0,178.0 712.9,177.9 713.9,177.7 714.9,177.5 715.9,177.3 716.9,177.1 717.9,176.9 718.8,176.7 719.8,176.5 720.8,176.2 721.7,176.0 722.7,175.8 723.7,175.5 724.7,175.3 725.6,175.0 726.6,174.7 727.5,174.5 728.5,174.2 729.4,173.9 730.4,173.6 731.3,173.2 732.3,172.9 733.2,172.6 734.2,172.2 735.1,171.9 736.0,171.5 736.9,171.1 737.9,170.8 738.8,170.4 739.7,169.9 740.6,169.5 741.5,169.1 742.4,168.7 743.3,168.2 744.2,167.7 745.1,167.3 746.0,166.8 746.8,166.3 747.7,165.8 748.6,165.3 749.4,164.7 750.3,164.2 751.2,163.7 752.0,163.1 752.9,162.6 753.7,162.0 754.6,161.5 755.4,160.9 756.2,160.3 757.1,159.7 757.9,159.2 758.7,158.6 759.5,158.0 760.4,157.4 761.2,156.8 762.0,156.2 762.8,155.6 763.6,154.9 764.4,154.3 765.2,153.7 766.0,153.1 766.8,152.5 767.6,151.9 768.4,151.3 769.2,150.6 769.9,150.0 770.7,149.4 771.5,148.8 772.3,148.2 773.1,147.6 773.8,147.0 774.6,146.3 775.4,145.7 776.1,145.1 776.9,144.5 777.6,143.9 778.4,143.3 779.2,142.6 779.9,142.0 780.7,141.4 781.4,140.8 782.2,140.2 782.9,139.5 783.7,138.9 784.4,138.3 785.2,137.7 785.9,137.0 786.7,136.4 787.4,135.7 788.2,135.1 788.9,134.5 789.6,133.8 790.4,133.2 791.1,132.5 791.9,131.9 792.6,131.2 793.4,130.5 794.1,129.9 794.9,129.2 795.6,128.5 796.4,127.8 797.1,127.1 797.9,126.5 798.6,125.8 799.4,125.1 800.1,124.4 800.9,123.6 801.6,122.9 802.4,122.2 803.1,121.5 803.9,120.8 804.7,120.1 805.4,119.4 806.2,118.7 807.0,118.0 807.7,117.3 808.5,116.6 809.3,115.9 810.1,115.2 810.9,114.5 811.6,113.8 812.4,113.2 813.2,112.5 814.0,111.9 814.9,111.3 815.7,110.7 816.5,110.1 817.3,109.5 818.1,108.9 819.0,108.4 819.8,107.8 820.6,107.3 821.5,106.8 822.3,106.3 823.2,105.9 824.1,105.4 824.9,105.0 825.8,104.6 826.7,104.3 827.6,103.9 828.5,103.6 829.4,103.3 830.3,103.0 831.2,102.8 832.2,102.6 833.1,102.3 834.0,102.2 835.0,102.0 835.9,101.8 836.9,101.7 837.8,101.6 838.8,101.5 839.7,101.4 840.7,101.4 841.7,101.4 842.6,101.3 843.6,101.3 844.6,101.3 845.6,101.4 846.6,101.4 847.6,101.5 848.6,101.5 849.6,101.6 850.6,101.7 851.6,101.8 852.6,101.9 853.6,102.1 854.6,102.2 855.6,102.4 856.6,102.5 857.6,102.7 858.6,102.9 859.6,103.1 860.6,103.3 861.6,103.5 862.6,103.7 863.7,103.9 864.7,104.1 865.7,104.4 866.7,104.6 867.7,104.8 868.7,105.1 869.7,105.3 870.7,105.6 871.7,105.8 872.7,106.1 873.7,106.4 874.7,106.6 875.7,106.9 876.7,107.2 877.7,107.4 878.7,107.7 879.7,107.9 880.6,108.2 881.6,108.5 882.6,108.7 883.6,109.0 884.5,109.2 885.5,109.5 886.5,109.7 887.4,110.0 888.4,110.2 889.3,110.5 890.3,110.7 891.2,110.9 892.2,111.2 893.1,111.4 894.1,111.6 895.0,111.8 896.0,112.1 896.9,112.3 897.9,112.5 898.8,112.7 899.8,112.9 900.7,113.1 901.7,113.3 902.6,113.5 903.6,113.7 904.5,113.9 905.5,114.0 906.4,114.2 907.4,114.4 908.3,114.5 909.3,114.7 910.2,114.8 911.2,115.0 912.2,115.1 913.1,115.3 914.1,115.4 915.1,115.5 916.1,115.6 917.0,115.7 918.0,115.8 919.0,115.9 920.0,116.0 921.0,116.1 922.0,116.2 923.0,116.2 924.0,116.3 925.0,116.4 926.0,116.4 927.1,116.5 928.1,116.5 929.1,116.5 930.1,116.6 931.2,116.6 932.2,116.6 933.2,116.6 934.3,116.7 935.3,116.7 936.3,116.7 937.4,116.7 938.4,116.7 939.4,116.7 940.5,116.7 941.5,116.7 942.5,116.7 943.6,116.7 944.6,116.7 945.6,116.8 946.6,116.8 947.7,116.8 948.7,116.8 949.7,116.8 950.7,116.8 951.7,116.8 952.7,116.8 953.8,116.9 954.8,116.9 955.8,116.9 956.7,116.9 957.7,117.0 958.7,117.0 959.7,117.1 960.7,117.1 961.6,117.2 962.6,117.3 963.6,117.3 964.5,117.4 965.6,117.8 965.7,118.8 965.8,119.8 966.0,120.8 966.1,121.8 966.1,122.8 966.2,123.8 966.3,124.7 966.4,125.7 966.4,126.7 966.5,127.7 966.6,128.7 966.6,129.7 966.6,130.7 966.7,131.7 966.7,132.7 966.7,133.6 966.7,134.6 966.8,135.6 966.8,136.6 966.8,137.6 966.8,138.6 966.8,139.6 966.7,140.6 966.7,141.6 966.7,142.6 966.7,143.6 966.7,144.6 966.6,145.6 966.6,146.6 966.6,147.6 966.5,148.6 966.5,149.6 966.5,150.6 966.4,151.6 966.4,152.6 966.3,153.6 966.3,154.6 966.2,155.6 966.2,156.7 966.1,157.7 966.0,158.7 966.0,159.7 965.9,160.7 965.8,161.7 965.7,162.7 965.6,163.7 965.5,164.8 965.4,165.8 965.3,166.8 965.2,167.8 965.1,168.8 964.9,169.8 964.8,170.8 964.7,171.8 964.5,172.8 964.3,173.8 964.2,174.8 964.0,175.8 963.8,176.8 963.6,177.8 963.4,178.8 963.2,179.8 962.9,180.7 962.7,181.7 962.5,182.7 962.2,183.7 961.9,184.6 961.6,185.6 961.3,186.6 961.0,187.5 960.7,188.5 960.4,189.4 960.0,190.3 959.7,191.3 959.3,192.2 958.9,193.1 958.5,194.1 958.1,195.0 957.7,195.9 957.3,196.8 956.8,197.7 956.3,198.6 955.9,199.4 955.4,200.3 954.9,201.1 954.4,202.0 953.8,202.8 953.3,203.7 952.7,204.5 952.2,205.3 951.6,206.1 951.0,206.9 950.4,207.6 949.8,208.4 949.1,209.2 948.5,209.9 947.8,210.6 947.1,211.3 946.4,212.0 945.7,212.7 945.0,213.4 944.3,214.0 943.5,214.6 942.8,215.3 942.0,215.9 941.2,216.5 940.4,217.0 939.6,217.6 938.8,218.2 938.0,218.7 937.1,219.2 936.3,219.8 935.4,220.3 934.6,220.8 933.7,221.2 932.8,221.7 931.9,222.2 931.0,222.7 930.1,223.1 929.2,223.6 928.3,224.0 927.4,224.5 926.5,224.9 925.6,225.3 924.7,225.8 923.7,226.2 922.8,226.6 921.9,227.0 921.0,227.5 920.1,227.9 919.1,228.3 918.2,228.7 917.3,229.1 916.4,229.5 915.5,229.9 914.5,230.3 913.6,230.7 912.7,231.1 911.8,231.5 910.8,231.9 909.9,232.3 909.0,232.7 908.1,233.1 907.1,233.5 906.2,233.9 905.3,234.3 904.4,234.6 903.4,235.0 902.5,235.4 901.6,235.8 900.6,236.2 899.7,236.6 898.8,236.9 897.9,237.3 896.9,237.7 896.0,238.1 895.1,238.5 894.2,238.8 893.2,239.2 892.3,239.6 891.4,240.0 890.4,240.3 889.5,240.7 888.6,241.1 887.7,241.5 886.7,241.8 885.8,242.2 884.9,242.6 884.0,243.0 883.0,243.4 882.1,243.7 881.2,244.1 880.3,244.5 879.3,244.9 878.4,245.3 877.5,245.6 876.6,246.0 875.6,246.4 874.7,246.8 873.8,247.2 872.9,247.6 872.0,248.0 871.1,248.3 870.1,248.7 869.2,249.1 868.3,249.5 867.4,249.9 866.5,250.3 865.6,250.7 864.6,251.1 863.7,251.5 862.8,251.9 861.9,252.3 861.0,252.8 860.1,253.2 859.2,253.6 858.3,254.0 857.4,254.4 856.5,254.8 855.6,255.3 854.7,255.7 853.8,256.1 852.9,256.6 852.0,257.0 851.1,257.4 850.2,257.9 849.3,258.3 848.4,258.8 847.5,259.2 846.6,259.7 845.7,260.1 844.8,260.6 843.9,261.1 843.1,261.5 842.2,262.0 841.3,262.5 840.4,263.0 839.5,263.4 838.6,263.9 837.8,264.4 836.9,264.9 836.0,265.4 835.1,265.9 834.3,266.4 833.4,266.9 832.5,267.4 831.7,267.9 830.8,268.4 829.9,268.9 829.1,269.5 828.2,270.0 827.3,270.5 826.5,271.0 825.6,271.5 824.7,272.0 823.9,272.6 823.0,273.1 822.1,273.6 821.3,274.1 820.4,274.6 819.5,275.2 818.7,275.7 817.8,276.2 816.9,276.7 816.1,277.2 815.2,277.8 814.3,278.3 813.5,278.8 812.6,279.3 811.7,279.8 810.9,280.3 810.0,280.9 809.1,281.4 808.3,281.9 807.4,282.4 806.5,282.9 805.6,283.4 804.8,283.9 803.9,284.4 803.0,284.9 802.1,285.3 801.3,285.8 800.4,286.3 799.5,286.8 798.6,287.3 797.7,287.7 796.8,288.2 795.9,288.7 795.1,289.1 794.2,289.6 793.3,290.0 792.4,290.5 791.5,290.9 790.6,291.3 789.7,291.8 788.8,292.2 787.9,292.6 787.0,293.0 786.0,293.4 785.1,293.8 784.2,294.2 783.3,294.6 782.4,295.0 781.4,295.4 780.5,295.8 779.6,296.1 778.7,296.5 777.7,296.8 776.8,297.2 775.8,297.5 774.9,297.8 773.9,298.1 773.0,298.4 772.0,298.7 771.1,299.0 770.1,299.3 769.2,299.6 768.2,299.8 767.2,300.1 766.3,300.3 765.3,300.6 764.3,300.8 763.3,301.0 762.4,301.1 761.4,301.3 760.4,301.5 759.5,301.6 758.5,301.7 757.5,301.8 756.5,301.9 755.5,301.9 754.6,302.0 753.6,302.0 752.6,302.0 751.7,302.0 750.7,301.9 749.7,301.8 748.8,301.7 747.8,301.6 746.8,301.5 745.9,301.3 744.9,301.1 744.0,300.9 743.0,300.7 742.1,300.5 741.1,300.2 740.2,299.9 739.3,299.6 738.3,299.3 737.4,299.0 736.5,298.6 735.6,298.2 734.7,297.8 733.8,297.4 732.9,297.0 732.0,296.6 731.1,296.1 730.2,295.7 729.3,295.2 728.4,294.7 727.6,294.3 726.7,293.8 725.8,293.2 724.9,292.7 724.1,292.2 723.2,291.7 722.3,291.1 721.5,290.6 720.6,290.0 719.8,289.5 718.9,288.9 718.0,288.3 717.2,287.8 716.3,287.2 715.5,286.6 714.6,286.0 713.8,285.4 712.9,284.9 712.1,284.3 711.2,283.7 710.4,283.1 709.5,282.5 708.6,282.0 707.8,281.4 706.9,280.8 706.1,280.3 705.2,279.7 704.3,279.2 703.5,278.6 702.6,278.1 701.7,277.6 700.9,277.0 700.0,276.5 699.1,276.0 698.2,275.5 697.4,275.0 696.5,274.5 695.6,274.1 694.7,273.6 693.8,273.1 692.9,272.7 692.0,272.2 691.1,271.8 690.2,271.3 689.3,270.9 688.4,270.5 687.5,270.1 686.6,269.7 685.7,269.3 684.8,268.9 683.9,268.5 683.0,268.1 682.0,267.7 681.1,267.4 680.2,267.0 679.3,266.6 678.4,266.3 677.4,265.9 676.5,265.6 675.6,265.3 674.6,264.9 673.7,264.6 672.8,264.3 671.8,264.0 670.9,263.7 669.9,263.3 669.0,263.0 668.0,262.7 667.1,262.5 666.1,262.2 665.2,261.9 664.2,261.6 663.3,261.3 662.3,261.1 661.4,260.8 660.4,260.5 659.5,260.3 658.5,260.0 657.5,259.8 656.6,259.5 655.6,259.3 654.6,259.0 653.7,258.8 652.7,258.6 651.7,258.3 650.7,258.1 649.8,257.9 648.8,257.6 647.8,257.4 646.8,257.2 645.9,257.0 644.9,256.8 643.9,256.6 642.9,256.3 641.9,256.1 640.9,255.9 640.0,255.7 639.0,255.5 638.0,255.2 637.0,255.0 636.0,254.8 635.1,254.6 634.1,254.3 633.1,254.1 632.1,253.9 631.2,253.6 630.2,253.4 629.2,253.1 628.2,252.9 627.3,252.6 626.3,252.3 625.3,252.0 624.4,251.8 623.4,251.5 622.5,251.2 621.5,250.9 620.6,250.5 619.6,250.2 618.7,249.9 617.7,249.5 616.8,249.2 615.9,248.8 614.9,248.5 614.0,248.1 613.1,247.7 612.1,247.3 611.2,247.0 610.3,246.6 609.3,246.2 608.4,245.8 607.5,245.5 606.5,245.1 605.6,244.7 604.7,244.3 603.7,244.0 602.8,243.6 601.9,243.3 600.9,242.9 600.0,242.6 599.1,242.3 598.1,242.0 597.2,241.7 596.2,241.4 595.3,241.1 594.3,240.8 593.3,240.6 592.4,240.3 591.4,240.0 590.5,239.8 589.5,239.6 588.5,239.3 587.6,239.1 586.6,238.9 585.6,238.7 584.6,238.5 583.7,238.3 582.7,238.1 581.7,237.9 580.7,237.8 579.7,237.6 578.8,237.4 577.8,237.3 576.8,237.1 575.8,237.0 574.8,236.8 573.8,236.7 572.8,236.6 571.8,236.5 570.8,236.3 569.8,236.2 568.8,236.1 567.8,236.0 566.8,235.9 565.8,235.8 564.8,235.7 563.8,235.6 562.8,235.5 561.8,235.4 560.8,235.3 559.8,235.2 558.8,235.1 557.8,235.1 556.8,235.0 555.8,234.9 554.8,234.8 553.8,234.7 552.8,234.7 551.8,234.6 550.8,234.5 549.8,234.5 548.8,234.4 547.8,234.3 546.8,234.2 545.8,234.2 544.8,234.1 543.8,234.0 542.8,234.0 541.8,233.9 540.8,233.8 539.8,233.8 538.8,233.7 537.8,233.6 536.8,233.6 535.8,233.5 534.8,233.4 533.8,233.4 532.9,233.3 531.9,233.2 530.9,233.2 529.9,233.1 528.9,233.0 527.9,233.0 526.9,232.9 525.9,232.9 524.9,232.8 523.9,232.7 522.9,232.7 521.9,232.6 520.9,232.6 519.9,232.5 518.9,232.5 517.9,232.4 516.9,232.3 515.9,232.3 514.9,232.2 513.9,232.2 512.9,232.1 511.9,232.1 510.9,232.0 510.0,232.0 509.0,231.9 508.0,231.9 507.0,231.8 506.0,231.8 505.0,231.8 504.0,231.7 503.0,231.7 502.0,231.6 501.0,231.6 500.0,231.5 499.0,231.5 498.0,231.5 497.0,231.4 496.0,231.4 495.0,231.3 494.0,231.3 493.0,231.3 492.1,231.2 491.1,231.2 490.1,231.2 489.1,231.1 488.1,231.1 487.1,231.1 486.1,231.1 485.1,231.0 484.1,231.0 483.1,231.0 482.1,230.9 481.1,230.9 480.1,230.9 479.1,230.9 478.1,230.9 477.1,230.8 476.1,230.8 475.1,230.8 474.1,230.8 473.1,230.8 472.1,230.8 471.1,230.8 470.1,230.7 469.1,230.7 468.1,230.7 467.1,230.7 466.1,230.7 465.1,230.7 464.1,230.7 463.1,230.7 462.1,230.7 461.1,230.7 460.1,230.7 459.1,230.7 458.1,230.7 457.1,230.7 456.1,230.7 455.1,230.7 454.1,230.7 453.1,230.7 452.1,230.7 451.1,230.7 450.1,230.8 449.1,230.8 448.1,230.8 447.1,230.8 446.1,230.8 445.1,230.8 444.1,230.9 443.1,230.9 442.1,230.9 441.1,230.9 440.1,231.0 439.1,231.0 438.1,231.0 437.0,231.0 436.0,231.1 435.0,231.1 434.0,231.1 433.0,231.2 432.0,231.2 431.0,231.3 430.0,231.3 429.0,231.3 428.0,231.4 426.9,231.4 425.9,231.5 424.9,231.5 423.9,231.6 422.9,231.6 421.9,231.7 420.9,231.7 419.8,231.8 418.8,231.9 417.8,231.9 416.8,232.0 415.8,232.1 414.8,232.1 413.8,232.2 412.8,232.3 411.7,232.4 410.7,232.5 409.7,232.5 408.7,232.6 407.7,232.7 406.7,232.8 405.7,232.9 404.7,233.0 403.7,233.1 402.7,233.2 401.7,233.4 400.7,233.5 399.7,233.6 398.7,233.7 397.7,233.9 396.7,234.0 395.7,234.1 394.7,234.3 393.7,234.4 392.7,234.6 391.7,234.7 390.7,234.9 389.7,235.1 388.7,235.3 387.7,235.4 386.7,235.6 385.7,235.8 384.8,236.0 383.8,236.2 382.8,236.4 381.8,236.6 380.9,236.8 379.9,237.0 378.9,237.3 377.9,237.5 377.0,237.7 376.0,238.0 375.1,238.2 374.1,238.5 373.1,238.8 372.2,239.0 371.2,239.3 370.3,239.6 369.3,239.9 368.4,240.2 367.5,240.5 366.5,240.8 365.6,241.1 364.6,241.4 363.7,241.8 362.8,242.1 361.9,242.4 360.9,242.8 360.0,243.2 359.1,243.5 358.2,243.9 357.3,244.3 356.4,244.7 355.5,245.1 354.6,245.5 353.7,245.9 352.8,246.3 351.9,246.8 351.0,247.2 350.1,247.6 349.3,248.1 348.4,248.6 347.5,249.0 346.6,249.5 345.8,250.0 344.9,250.5 344.1,251.0 343.2,251.5 342.4,252.1 341.5,252.6 340.7,253.1 339.8,253.7 339.0,254.2 338.2,254.8 337.3,255.3 336.5,255.9 335.7,256.5 334.9,257.0 334.1,257.6 333.3,258.2 332.4,258.8 331.6,259.4 330.8,260.0 330.0,260.6 329.3,261.3 328.5,261.9 327.7,262.5 326.9,263.1 326.1,263.8 325.3,264.4 324.6,265.1 323.8,265.7 323.0,266.4 322.2,267.0 321.5,267.7 320.7,268.3 320.0,269.0 319.2,269.7 318.5,270.3 317.7,271.0 317.0,271.7 316.2,272.4 315.5,273.1 314.8,273.7 314.0,274.4 313.3,275.1 312.6,275.8 311.8,276.5 311.1,277.2 310.4,277.9 309.7,278.6 309.0,279.3 308.3,279.9 307.5,280.6 306.8,281.3 306.1,282.0 305.4,282.7 304.7,283.4 304.0,284.1 303.3,284.8 302.6,285.4 301.9,286.1 301.1,286.8 300.4,287.4 299.7,288.1 299.0,288.7 298.2,289.4 297.5,290.0 296.7,290.6 296.0,291.2 295.2,291.8 294.4,292.4 293.7,293.0 292.9,293.6 292.1,294.1 291.3,294.7 290.5,295.2 289.6,295.7 288.8,296.2 288.0,296.7 287.1,297.2 286.2,297.7 285.3,298.1 284.5,298.6 283.6,299.0 282.6,299.4 281.7,299.8 280.8,300.2 279.9,300.6 278.9,300.9 278.0,301.3 277.0,301.7 276.0,302.0 275.1,302.4 274.1,302.7 273.2,303.1 272.2,303.4 271.2,303.7 270.2,304.1 269.3,304.4 268.3,304.8 267.3,305.1 266.4,305.4 265.4,305.8 264.5,306.2 263.5,306.5 262.6,306.9 261.7,307.3 260.7,307.7 259.8,308.1 258.9,308.5 258.0,308.9 257.1,309.3 256.2,309.8 255.4,310.2 254.5,310.7 253.7,311.2 252.8,311.7 252.0,312.3 251.2,312.8 250.5,313.4 249.7,314.0 248.9,314.6 248.2,315.2 247.5,315.8 246.8,316.5 246.1,317.1 245.4,317.8 244.7,318.5 244.1,319.2 243.4,320.0 242.8,320.7 242.2,321.5 241.5,322.2 240.9,323.0 240.4,323.8 239.8,324.6 239.2,325.4 238.7,326.2 238.1,327.0 237.6,327.9 237.0,328.7 236.5,329.6 236.0,330.5 235.5,331.3 235.0,332.2 234.5,333.1 234.1,334.0 233.6,334.9 233.2,335.8 232.7,336.8 232.3,337.7 231.8,338.6 231.4,339.5 231.0,340.5 230.5,341.4 230.1,342.4 229.7,343.3 229.3,344.3 228.9,345.2 228.5,346.2 228.2,347.1 227.8,348.1 227.4,349.0 227.0,350.0 226.7,350.9 226.3,351.9 225.9,352.9 225.6,353.8 225.2,354.8 224.9,355.7 224.5,356.7 224.2,357.6 223.9,358.6 223.5,359.5 223.2,360.5 222.9,361.4 222.5,362.4 222.2,363.3 221.9,364.3 221.6,365.3 221.3,366.2 220.9,367.2 220.6,368.1 220.3,369.1 220.0,370.0 219.7,371.0 219.4,371.9 219.2,372.9 218.9,373.8 218.6,374.8 218.3,375.8 218.0,376.7 217.7,377.7 217.5,378.6 217.2,379.6 216.9,380.5 216.7,381.5 216.4,382.4 216.1,383.4 215.9,384.4 215.6,385.3 215.4,386.3 215.1,387.2 214.9,388.2 214.6,389.2 214.4,390.1 214.1,391.1 213.9,392.0 213.7,393.0 213.4,394.0 213.2,394.9 213.0,395.9 212.8,396.9 212.5,397.8 212.3,398.8 212.1,399.8 211.9,400.7 211.6,401.7 211.4,402.7 211.2,403.6 211.0,404.6 210.8,405.6 210.6,406.5 210.4,407.5 210.2,408.5 210.0,409.5 209.8,410.4 209.6,411.4 209.4,412.4 209.2,413.4 209.0,414.3 208.8,415.3 208.6,416.3 208.4,417.3 208.2,418.2 208.0,419.2 207.9,420.2 207.7,421.2 207.5,422.2 207.3,423.2 207.1,424.1 207.0,425.1 206.8,426.1 206.6,427.1 206.4,428.1 206.3,429.1 206.1,430.0 205.9,431.0 205.8,432.0 205.6,433.0 205.4,434.0 205.3,435.0 205.1,436.0 204.9,436.9 204.8,437.9 204.6,438.9 204.5,439.9 204.3,440.9 204.2,441.9 204.0,442.9 203.8,443.9 203.7,444.9 203.5,445.9 203.4,446.8 203.2,447.8 203.1,448.8 202.9,449.8 202.8,450.8 202.6,451.8 202.5,452.8 202.4,453.8 202.2,454.8 202.1,455.8 201.9,456.8 201.8,457.8 201.6,458.8 201.5,459.8 201.4,460.8 201.2,461.8 201.1,462.7 200.9,463.7 200.8,464.7 200.7,465.7 200.5,466.7 200.4,467.7 200.3,468.7 200.1,469.7 200.0,470.7 199.8,471.7 199.7,472.7 199.6,473.7 199.4,474.7 199.3,475.7 199.2,476.7 199.0,477.7 198.9,478.7 198.8,479.7 198.6,480.7 198.5,481.7 198.4,482.7 198.2,483.7 198.1,484.7 198.0,485.7 197.8,486.7 197.7,487.7 197.6,488.7 197.5,489.7 197.3,490.7 197.2,491.7 197.1,492.7 196.9,493.7 196.8,494.6 196.7,495.6 196.5,496.6 196.4,497.6 196.3,498.6 196.1,499.6 196.0,500.6 195.8,501.6 195.7,502.6 195.6,503.6 195.4,504.6 195.3,505.6 195.2,506.6 195.0,507.6 194.9,508.6 194.8,509.6 194.6,510.6 194.5,511.6 194.3,512.6 194.2,513.6 194.1,514.5 193.9,515.5 193.8,516.5 193.6,517.5 193.5,518.5 193.3,519.5 193.2,520.5 193.0,521.5 192.9,522.5 192.7,523.5 192.6,524.5 192.5,525.5 192.3,526.4 192.1,527.4 192.0,528.4 191.8,529.4 191.7,530.4 191.5,531.4 191.4,532.4 191.2,533.4 191.1,534.3 190.9,535.3 190.7,536.3 190.6,537.3 190.4,538.3 190.3,539.3 190.1,540.2 189.9,541.2 189.8,542.2 189.6,543.2 189.4,544.2 189.2,545.2 189.1,546.1 188.9,547.1 188.7,548.1 188.5,549.1 188.4,550.0 188.2,551.0 188.0,552.0 186.6,556.0Z" fill="none" stroke="#7F7F7F" stroke-width="2.8" stroke-linejoin="round" stroke-linecap="butt" clip-path="url(#clipa)"/>
<line x1="158.00" y1="29.00" x2="970.50" y2="29.00" stroke="#000" stroke-width="2.00" />
<line x1="158.00" y1="569.00" x2="970.50" y2="569.00" stroke="#000" stroke-width="2.00" />
<line x1="969.50" y1="29.00" x2="969.50" y2="569.00" stroke="#000" stroke-width="2.00" />
<line x1="169.00" y1="28.00" x2="169.00" y2="570.00" stroke="#000" stroke-width="2.00" />
<line x1="158.00" y1="209.00" x2="969.50" y2="209.00" stroke="#000" stroke-width="2.00" />
<line x1="158.00" y1="119.00" x2="169.00" y2="119.00" stroke="#000" stroke-width="2.00" />
<line x1="158.00" y1="299.00" x2="169.00" y2="299.00" stroke="#000" stroke-width="2.00" />
<line x1="158.00" y1="389.00" x2="169.00" y2="389.00" stroke="#000" stroke-width="2.00" />
<line x1="158.00" y1="479.00" x2="169.00" y2="479.00" stroke="#000" stroke-width="2.00" />
<line x1="329.10" y1="199.00" x2="329.10" y2="219.00" stroke="#000" stroke-width="2.00" />
<line x1="489.20" y1="199.00" x2="489.20" y2="219.00" stroke="#000" stroke-width="2.00" />
<line x1="649.30" y1="199.00" x2="649.30" y2="219.00" stroke="#000" stroke-width="2.00" />
<line x1="809.40" y1="199.00" x2="809.40" y2="219.00" stroke="#000" stroke-width="2.00" />
<text x="108.20" y="38.28" font-size="28.70" >20</text>
<text x="108.20" y="128.28" font-size="28.70" >10</text>
<text x="124.16" y="218.28" font-size="28.70" >0</text>
<text x="98.64" y="308.28" font-size="28.70" >-10</text>
<text x="98.64" y="398.28" font-size="28.70" >-20</text>
<text x="98.64" y="488.28" font-size="28.70" >-30</text>
<text x="98.64" y="578.28" font-size="28.70" >-40</text>
<text x="161.02" y="619.80" font-size="28.70" >0</text>
<text x="309.31" y="619.80" font-size="28.70" >0.2</text>
<text x="469.11" y="619.80" font-size="28.70" >0.4</text>
<text x="629.42" y="619.80" font-size="28.70" >0.6</text>
<text x="789.51" y="619.80" font-size="28.70" >0.8</text>
<text x="961.13" y="619.80" font-size="28.70" >1</text>
<line x1="738.00" y1="453.00" x2="779.00" y2="453.00" stroke="#4472C4" stroke-width="2.60" />
<text x="781.98" y="463.90" font-size="32.20" textLength="130.09" lengthAdjust="spacingAndGlyphs" >100% RH</text>
<line x1="738.00" y1="494.10" x2="779.00" y2="494.10" stroke="#ED7D31" stroke-width="2.60" />
<text x="782.77" y="504.80" font-size="32.20" textLength="110.85" lengthAdjust="spacingAndGlyphs" >70% RH</text>
<line x1="738.00" y1="534.90" x2="779.00" y2="534.90" stroke="#7F7F7F" stroke-width="2.60" />
<text x="783.62" y="545.90" font-size="32.20" textLength="101.58" lengthAdjust="spacingAndGlyphs" >40%RH</text>
<path d="M741.8,60.2 L821,60.2 L821,47.2 L844.8,71.9 L821,95.5 L821,82.1 L741.8,82.1 Z" fill="none" stroke="#7F7F7F" stroke-width="2.4" stroke-dasharray="6.8,3.5" stroke-dashoffset="-3"/>
<text x="855.17" y="76.30" font-size="38.00" textLength="77.88" lengthAdjust="spacingAndGlyphs" >drier</text>
<text x="479.56" y="670.70" font-size="34.50" font-weight="bold" textLength="180.15" lengthAdjust="spacingAndGlyphs" >Voltage (V)</text>
<text transform="translate(66.20,0) rotate(-90)" x="-532.01" y="0" font-size="35.50" font-weight="bold" textLength="123.72" lengthAdjust="spacingAndGlyphs">Current</text>
<text transform="translate(66.20,0) rotate(-90)" x="-398.71" y="0" font-size="35.50" font-weight="bold" textLength="120.19" lengthAdjust="spacingAndGlyphs">density</text>
<text transform="translate(66.20,0) rotate(-90)" x="-269.83" y="0" font-size="35.50" font-weight="bold" textLength="134.60" lengthAdjust="spacingAndGlyphs">(mA/cm</text>
<text transform="translate(54.00,0) rotate(-90)" x="-136.19" y="0" font-size="24.64" font-weight="bold" textLength="12.71" lengthAdjust="spacingAndGlyphs">2</text>
<text transform="translate(66.20,0) rotate(-90)" x="-124.04" y="0" font-size="35.50" font-weight="bold" textLength="13.22" lengthAdjust="spacingAndGlyphs">)</text>
<line x1="155.00" y1="716.70" x2="975.40" y2="716.70" stroke="#000" stroke-width="2.00" />
<line x1="974.40" y1="715.70" x2="974.40" y2="1200.50" stroke="#000" stroke-width="2.00" />
<line x1="165.00" y1="715.70" x2="165.00" y2="1200.50" stroke="#000" stroke-width="2.00" />
<line x1="155.00" y1="1191.00" x2="974.40" y2="1191.00" stroke="#000" stroke-width="2.00" />
<line x1="155.00" y1="1143.57" x2="165.00" y2="1143.57" stroke="#000" stroke-width="2.00" />
<line x1="155.00" y1="1096.14" x2="165.00" y2="1096.14" stroke="#000" stroke-width="2.00" />
<line x1="155.00" y1="1048.71" x2="165.00" y2="1048.71" stroke="#000" stroke-width="2.00" />
<line x1="155.00" y1="1001.28" x2="165.00" y2="1001.28" stroke="#000" stroke-width="2.00" />
<line x1="155.00" y1="953.85" x2="165.00" y2="953.85" stroke="#000" stroke-width="2.00" />
<line x1="155.00" y1="906.42" x2="165.00" y2="906.42" stroke="#000" stroke-width="2.00" />
<line x1="155.00" y1="858.99" x2="165.00" y2="858.99" stroke="#000" stroke-width="2.00" />
<line x1="155.00" y1="811.56" x2="165.00" y2="811.56" stroke="#000" stroke-width="2.00" />
<line x1="155.00" y1="764.13" x2="165.00" y2="764.13" stroke="#000" stroke-width="2.00" />
<line x1="280.63" y1="1191.00" x2="280.63" y2="1200.50" stroke="#000" stroke-width="2.00" />
<line x1="396.26" y1="1191.00" x2="396.26" y2="1200.50" stroke="#000" stroke-width="2.00" />
<line x1="511.89" y1="1191.00" x2="511.89" y2="1200.50" stroke="#000" stroke-width="2.00" />
<line x1="627.51" y1="1191.00" x2="627.51" y2="1200.50" stroke="#000" stroke-width="2.00" />
<line x1="743.14" y1="1191.00" x2="743.14" y2="1200.50" stroke="#000" stroke-width="2.00" />
<line x1="858.77" y1="1191.00" x2="858.77" y2="1200.50" stroke="#000" stroke-width="2.00" />
<text x="121.16" y="1200.28" font-size="28.70" >0</text>
<text x="97.50" y="1152.85" font-size="28.70" >0.1</text>
<text x="97.55" y="1105.42" font-size="28.70" >0.2</text>
<text x="97.36" y="1057.99" font-size="28.70" >0.3</text>
<text x="96.94" y="1010.56" font-size="28.70" >0.4</text>
<text x="97.31" y="963.13" font-size="28.70" >0.5</text>
<text x="97.36" y="915.70" font-size="28.70" >0.6</text>
<text x="97.55" y="868.27" font-size="28.70" >0.7</text>
<text x="97.35" y="820.84" font-size="28.70" >0.8</text>
<text x="97.46" y="773.41" font-size="28.70" >0.9</text>
<text x="121.44" y="725.97" font-size="28.70" >1</text>
<text x="145.12" y="1240.00" font-size="28.70" >0.6</text>
<text x="252.74" y="1240.00" font-size="28.70" >0.65</text>
<text x="376.47" y="1240.00" font-size="28.70" >0.7</text>
<text x="484.00" y="1240.00" font-size="28.70" >0.75</text>
<text x="607.63" y="1240.00" font-size="28.70" >0.8</text>
<text x="715.26" y="1240.00" font-size="28.70" >0.85</text>
<text x="838.94" y="1240.00" font-size="28.70" >0.9</text>
<text x="946.51" y="1240.00" font-size="28.70" >0.95</text>
<line x1="558.14" y1="1067.55" x2="558.14" y2="1072.55" stroke="#595959" stroke-width="1.60" />
<line x1="553.14" y1="1067.55" x2="563.14" y2="1067.55" stroke="#595959" stroke-width="1.60" />
<line x1="553.14" y1="1072.55" x2="563.14" y2="1072.55" stroke="#595959" stroke-width="1.60" />
<line x1="673.77" y1="947.58" x2="673.77" y2="959.18" stroke="#595959" stroke-width="1.60" />
<line x1="668.77" y1="947.58" x2="678.77" y2="947.58" stroke="#595959" stroke-width="1.60" />
<line x1="668.77" y1="959.18" x2="678.77" y2="959.18" stroke="#595959" stroke-width="1.60" />
<line x1="743.14" y1="880.47" x2="743.14" y2="897.27" stroke="#595959" stroke-width="1.60" />
<line x1="738.14" y1="880.47" x2="748.14" y2="880.47" stroke="#595959" stroke-width="1.60" />
<line x1="738.14" y1="897.27" x2="748.14" y2="897.27" stroke="#595959" stroke-width="1.60" />
<line x1="800.96" y1="825.40" x2="800.96" y2="848.00" stroke="#595959" stroke-width="1.60" />
<line x1="795.96" y1="825.40" x2="805.96" y2="825.40" stroke="#595959" stroke-width="1.60" />
<line x1="795.96" y1="848.00" x2="805.96" y2="848.00" stroke="#595959" stroke-width="1.60" />
<line x1="858.77" y1="795.30" x2="858.77" y2="811.70" stroke="#595959" stroke-width="1.60" />
<line x1="853.77" y1="795.30" x2="863.77" y2="795.30" stroke="#595959" stroke-width="1.60" />
<line x1="853.77" y1="811.70" x2="863.77" y2="811.70" stroke="#595959" stroke-width="1.60" />
<line x1="558.14" y1="1117.12" x2="558.14" y2="1122.12" stroke="#595959" stroke-width="1.60" />
<line x1="553.14" y1="1117.12" x2="563.14" y2="1117.12" stroke="#595959" stroke-width="1.60" />
<line x1="553.14" y1="1122.12" x2="563.14" y2="1122.12" stroke="#595959" stroke-width="1.60" />
<line x1="673.77" y1="987.56" x2="673.77" y2="1008.36" stroke="#595959" stroke-width="1.60" />
<line x1="668.77" y1="987.56" x2="678.77" y2="987.56" stroke="#595959" stroke-width="1.60" />
<line x1="668.77" y1="1008.36" x2="678.77" y2="1008.36" stroke="#595959" stroke-width="1.60" />
<line x1="743.14" y1="919.70" x2="743.14" y2="932.50" stroke="#595959" stroke-width="1.60" />
<line x1="738.14" y1="919.70" x2="748.14" y2="919.70" stroke="#595959" stroke-width="1.60" />
<line x1="738.14" y1="932.50" x2="748.14" y2="932.50" stroke="#595959" stroke-width="1.60" />
<line x1="800.96" y1="862.01" x2="800.96" y2="881.01" stroke="#595959" stroke-width="1.60" />
<line x1="795.96" y1="862.01" x2="805.96" y2="862.01" stroke="#595959" stroke-width="1.60" />
<line x1="795.96" y1="881.01" x2="805.96" y2="881.01" stroke="#595959" stroke-width="1.60" />
<line x1="858.77" y1="801.99" x2="858.77" y2="841.99" stroke="#595959" stroke-width="1.60" />
<line x1="853.77" y1="801.99" x2="863.77" y2="801.99" stroke="#595959" stroke-width="1.60" />
<line x1="853.77" y1="841.99" x2="863.77" y2="841.99" stroke="#595959" stroke-width="1.60" />
<line x1="558.14" y1="1166.55" x2="558.14" y2="1176.55" stroke="#595959" stroke-width="1.60" />
<line x1="553.14" y1="1166.55" x2="563.14" y2="1166.55" stroke="#595959" stroke-width="1.60" />
<line x1="553.14" y1="1176.55" x2="563.14" y2="1176.55" stroke="#595959" stroke-width="1.60" />
<line x1="673.77" y1="1057.12" x2="673.77" y2="1087.72" stroke="#595959" stroke-width="1.60" />
<line x1="668.77" y1="1057.12" x2="678.77" y2="1057.12" stroke="#595959" stroke-width="1.60" />
<line x1="668.77" y1="1087.72" x2="678.77" y2="1087.72" stroke="#595959" stroke-width="1.60" />
<line x1="743.14" y1="972.30" x2="743.14" y2="1003.70" stroke="#595959" stroke-width="1.60" />
<line x1="738.14" y1="972.30" x2="748.14" y2="972.30" stroke="#595959" stroke-width="1.60" />
<line x1="738.14" y1="1003.70" x2="748.14" y2="1003.70" stroke="#595959" stroke-width="1.60" />
<line x1="800.96" y1="906.80" x2="800.96" y2="928.80" stroke="#595959" stroke-width="1.60" />
<line x1="795.96" y1="906.80" x2="805.96" y2="906.80" stroke="#595959" stroke-width="1.60" />
<line x1="795.96" y1="928.80" x2="805.96" y2="928.80" stroke="#595959" stroke-width="1.60" />
<line x1="858.77" y1="846.33" x2="858.77" y2="881.13" stroke="#595959" stroke-width="1.60" />
<line x1="853.77" y1="846.33" x2="863.77" y2="846.33" stroke="#595959" stroke-width="1.60" />
<line x1="853.77" y1="881.13" x2="863.77" y2="881.13" stroke="#595959" stroke-width="1.60" />
<polyline points="280.63,1191.00 396.26,1177.01 558.14,1070.05 673.77,953.38 743.14,888.87 800.96,836.70 858.77,803.50" fill="none" stroke="#4472C4" stroke-width="3.1" stroke-linejoin="round"/>
<circle cx="396.26" cy="1177.01" r="6.00" fill="#4472C4"/>
<circle cx="558.14" cy="1070.05" r="6.00" fill="#4472C4"/>
<circle cx="673.77" cy="953.38" r="6.00" fill="#4472C4"/>
<circle cx="743.14" cy="888.87" r="6.00" fill="#4472C4"/>
<circle cx="800.96" cy="836.70" r="6.00" fill="#4472C4"/>
<circle cx="858.77" cy="803.50" r="6.00" fill="#4472C4"/>
<polyline points="396.26,1191.00 558.14,1119.62 673.77,997.96 743.14,926.10 800.96,871.51 858.77,821.99" fill="none" stroke="#ED7D31" stroke-width="3.1" stroke-linejoin="round"/>
<circle cx="558.14" cy="1119.62" r="6.00" fill="#ED7D31"/>
<circle cx="673.77" cy="997.96" r="6.00" fill="#ED7D31"/>
<circle cx="743.14" cy="926.10" r="6.00" fill="#ED7D31"/>
<circle cx="800.96" cy="871.51" r="6.00" fill="#ED7D31"/>
<circle cx="858.77" cy="821.99" r="6.00" fill="#ED7D31"/>
<polyline points="280.63,1191.00 396.26,1191.00 558.14,1171.55 673.77,1072.42 743.14,988.00 800.96,917.80 858.77,863.73" fill="none" stroke="#7F7F7F" stroke-width="3.1" stroke-linejoin="round"/>
<circle cx="280.63" cy="1191.00" r="6.00" fill="#7F7F7F"/>
<circle cx="396.26" cy="1191.00" r="6.00" fill="#7F7F7F"/>
<circle cx="558.14" cy="1171.55" r="6.00" fill="#7F7F7F"/>
<circle cx="673.77" cy="1072.42" r="6.00" fill="#7F7F7F"/>
<circle cx="743.14" cy="988.00" r="6.00" fill="#7F7F7F"/>
<circle cx="800.96" cy="917.80" r="6.00" fill="#7F7F7F"/>
<circle cx="858.77" cy="863.73" r="6.00" fill="#7F7F7F"/>
<line x1="189.50" y1="746.30" x2="233.30" y2="746.30" stroke="#4472C4" stroke-width="3.00" />
<circle cx="211.3" cy="746.30" r="6.00" fill="#4472C4"/>
<text x="237.62" y="755.30" font-size="28.20" textLength="192.29" lengthAdjust="spacingAndGlyphs" >75C100RH-Pt/V</text>
<line x1="189.50" y1="792.60" x2="233.30" y2="792.60" stroke="#ED7D31" stroke-width="3.00" />
<circle cx="211.3" cy="792.60" r="6.00" fill="#ED7D31"/>
<text x="237.63" y="801.60" font-size="28.20" textLength="176.69" lengthAdjust="spacingAndGlyphs" >75C70RH-Pt/V</text>
<line x1="189.50" y1="839.40" x2="233.30" y2="839.40" stroke="#7F7F7F" stroke-width="3.00" />
<circle cx="211.3" cy="839.40" r="6.00" fill="#7F7F7F"/>
<text x="237.63" y="848.70" font-size="28.20" textLength="176.69" lengthAdjust="spacingAndGlyphs" >75C40RH-Pt/V</text>
<text x="465.17" y="1281.80" font-size="34.50" font-weight="bold" textLength="178.44" lengthAdjust="spacingAndGlyphs" >Voltage (V)</text>
<line x1="142.60" y1="1323.70" x2="973.50" y2="1323.70" stroke="#000" stroke-width="2.00" />
<line x1="972.50" y1="1322.70" x2="972.50" y2="1806.90" stroke="#000" stroke-width="2.00" />
<line x1="152.60" y1="1322.70" x2="152.60" y2="1806.90" stroke="#000" stroke-width="2.00" />
<line x1="142.60" y1="1797.40" x2="972.50" y2="1797.40" stroke="#000" stroke-width="2.00" />
<line x1="142.60" y1="1750.03" x2="152.60" y2="1750.03" stroke="#000" stroke-width="2.00" />
<line x1="142.60" y1="1702.66" x2="152.60" y2="1702.66" stroke="#000" stroke-width="2.00" />
<line x1="142.60" y1="1655.29" x2="152.60" y2="1655.29" stroke="#000" stroke-width="2.00" />
<line x1="142.60" y1="1607.92" x2="152.60" y2="1607.92" stroke="#000" stroke-width="2.00" />
<line x1="142.60" y1="1560.55" x2="152.60" y2="1560.55" stroke="#000" stroke-width="2.00" />
<line x1="142.60" y1="1513.18" x2="152.60" y2="1513.18" stroke="#000" stroke-width="2.00" />
<line x1="142.60" y1="1465.81" x2="152.60" y2="1465.81" stroke="#000" stroke-width="2.00" />
<line x1="142.60" y1="1418.44" x2="152.60" y2="1418.44" stroke="#000" stroke-width="2.00" />
<line x1="142.60" y1="1371.07" x2="152.60" y2="1371.07" stroke="#000" stroke-width="2.00" />
<line x1="269.73" y1="1797.40" x2="269.73" y2="1806.90" stroke="#000" stroke-width="2.00" />
<line x1="386.86" y1="1797.40" x2="386.86" y2="1806.90" stroke="#000" stroke-width="2.00" />
<line x1="503.99" y1="1797.40" x2="503.99" y2="1806.90" stroke="#000" stroke-width="2.00" />
<line x1="621.11" y1="1797.40" x2="621.11" y2="1806.90" stroke="#000" stroke-width="2.00" />
<line x1="738.24" y1="1797.40" x2="738.24" y2="1806.90" stroke="#000" stroke-width="2.00" />
<line x1="855.37" y1="1797.40" x2="855.37" y2="1806.90" stroke="#000" stroke-width="2.00" />
<text x="108.96" y="1806.68" font-size="28.70" >0</text>
<text x="85.30" y="1759.31" font-size="28.70" >0.1</text>
<text x="85.35" y="1711.94" font-size="28.70" >0.2</text>
<text x="85.16" y="1664.57" font-size="28.70" >0.3</text>
<text x="84.74" y="1617.20" font-size="28.70" >0.4</text>
<text x="85.11" y="1569.83" font-size="28.70" >0.5</text>
<text x="85.16" y="1522.46" font-size="28.70" >0.6</text>
<text x="85.35" y="1475.09" font-size="28.70" >0.7</text>
<text x="85.15" y="1427.72" font-size="28.70" >0.8</text>
<text x="85.26" y="1380.35" font-size="28.70" >0.9</text>
<text x="109.24" y="1332.97" font-size="28.70" >1</text>
<text x="132.72" y="1846.20" font-size="28.70" >0.6</text>
<text x="241.84" y="1846.20" font-size="28.70" >0.65</text>
<text x="367.07" y="1846.20" font-size="28.70" >0.7</text>
<text x="476.10" y="1846.20" font-size="28.70" >0.75</text>
<text x="601.23" y="1846.20" font-size="28.70" >0.8</text>
<text x="710.36" y="1846.20" font-size="28.70" >0.85</text>
<text x="835.54" y="1846.20" font-size="28.70" >0.9</text>
<text x="944.61" y="1846.20" font-size="28.70" >0.95</text>
<line x1="550.84" y1="1674.11" x2="550.84" y2="1679.11" stroke="#404040" stroke-width="1.60" />
<line x1="545.84" y1="1674.11" x2="555.84" y2="1674.11" stroke="#404040" stroke-width="1.60" />
<line x1="545.84" y1="1679.11" x2="555.84" y2="1679.11" stroke="#404040" stroke-width="1.60" />
<line x1="667.97" y1="1554.28" x2="667.97" y2="1565.88" stroke="#404040" stroke-width="1.60" />
<line x1="662.97" y1="1554.28" x2="672.97" y2="1554.28" stroke="#404040" stroke-width="1.60" />
<line x1="662.97" y1="1565.88" x2="672.97" y2="1565.88" stroke="#404040" stroke-width="1.60" />
<line x1="738.24" y1="1487.25" x2="738.24" y2="1504.05" stroke="#404040" stroke-width="1.60" />
<line x1="733.24" y1="1487.25" x2="743.24" y2="1487.25" stroke="#404040" stroke-width="1.60" />
<line x1="733.24" y1="1504.05" x2="743.24" y2="1504.05" stroke="#404040" stroke-width="1.60" />
<line x1="796.81" y1="1432.25" x2="796.81" y2="1454.85" stroke="#404040" stroke-width="1.60" />
<line x1="791.81" y1="1432.25" x2="801.81" y2="1432.25" stroke="#404040" stroke-width="1.60" />
<line x1="791.81" y1="1454.85" x2="801.81" y2="1454.85" stroke="#404040" stroke-width="1.60" />
<line x1="855.37" y1="1402.19" x2="855.37" y2="1418.59" stroke="#404040" stroke-width="1.60" />
<line x1="850.37" y1="1402.19" x2="860.37" y2="1402.19" stroke="#404040" stroke-width="1.60" />
<line x1="850.37" y1="1418.59" x2="860.37" y2="1418.59" stroke="#404040" stroke-width="1.60" />
<line x1="501.64" y1="1723.61" x2="501.64" y2="1728.61" stroke="#404040" stroke-width="1.60" />
<line x1="496.64" y1="1723.61" x2="506.64" y2="1723.61" stroke="#404040" stroke-width="1.60" />
<line x1="496.64" y1="1728.61" x2="506.64" y2="1728.61" stroke="#404040" stroke-width="1.60" />
<line x1="618.77" y1="1594.20" x2="618.77" y2="1615.00" stroke="#404040" stroke-width="1.60" />
<line x1="613.77" y1="1594.20" x2="623.77" y2="1594.20" stroke="#404040" stroke-width="1.60" />
<line x1="613.77" y1="1615.00" x2="623.77" y2="1615.00" stroke="#404040" stroke-width="1.60" />
<line x1="689.05" y1="1526.44" x2="689.05" y2="1539.24" stroke="#404040" stroke-width="1.60" />
<line x1="684.05" y1="1526.44" x2="694.05" y2="1526.44" stroke="#404040" stroke-width="1.60" />
<line x1="684.05" y1="1539.24" x2="694.05" y2="1539.24" stroke="#404040" stroke-width="1.60" />
<line x1="747.61" y1="1468.82" x2="747.61" y2="1487.82" stroke="#404040" stroke-width="1.60" />
<line x1="742.61" y1="1468.82" x2="752.61" y2="1468.82" stroke="#404040" stroke-width="1.60" />
<line x1="742.61" y1="1487.82" x2="752.61" y2="1487.82" stroke="#404040" stroke-width="1.60" />
<line x1="806.18" y1="1408.86" x2="806.18" y2="1448.86" stroke="#404040" stroke-width="1.60" />
<line x1="801.18" y1="1408.86" x2="811.18" y2="1408.86" stroke="#404040" stroke-width="1.60" />
<line x1="801.18" y1="1448.86" x2="811.18" y2="1448.86" stroke="#404040" stroke-width="1.60" />
<line x1="452.45" y1="1772.98" x2="452.45" y2="1782.98" stroke="#404040" stroke-width="1.60" />
<line x1="447.45" y1="1772.98" x2="457.45" y2="1772.98" stroke="#404040" stroke-width="1.60" />
<line x1="447.45" y1="1782.98" x2="457.45" y2="1782.98" stroke="#404040" stroke-width="1.60" />
<line x1="569.58" y1="1663.68" x2="569.58" y2="1694.28" stroke="#404040" stroke-width="1.60" />
<line x1="564.58" y1="1663.68" x2="574.58" y2="1663.68" stroke="#404040" stroke-width="1.60" />
<line x1="564.58" y1="1694.28" x2="574.58" y2="1694.28" stroke="#404040" stroke-width="1.60" />
<line x1="639.85" y1="1578.96" x2="639.85" y2="1610.36" stroke="#404040" stroke-width="1.60" />
<line x1="634.85" y1="1578.96" x2="644.85" y2="1578.96" stroke="#404040" stroke-width="1.60" />
<line x1="634.85" y1="1610.36" x2="644.85" y2="1610.36" stroke="#404040" stroke-width="1.60" />
<line x1="698.42" y1="1513.55" x2="698.42" y2="1535.55" stroke="#404040" stroke-width="1.60" />
<line x1="693.42" y1="1513.55" x2="703.42" y2="1513.55" stroke="#404040" stroke-width="1.60" />
<line x1="693.42" y1="1535.55" x2="703.42" y2="1535.55" stroke="#404040" stroke-width="1.60" />
<line x1="756.98" y1="1453.15" x2="756.98" y2="1487.95" stroke="#404040" stroke-width="1.60" />
<line x1="751.98" y1="1453.15" x2="761.98" y2="1453.15" stroke="#404040" stroke-width="1.60" />
<line x1="751.98" y1="1487.95" x2="761.98" y2="1487.95" stroke="#404040" stroke-width="1.60" />
<circle cx="269.73" cy="1797.40" r="6.00" fill="#4472C4"/>
<circle cx="386.86" cy="1783.43" r="6.00" fill="#4472C4"/>
<circle cx="550.84" cy="1676.61" r="6.00" fill="#4472C4"/>
<circle cx="667.97" cy="1560.08" r="6.00" fill="#4472C4"/>
<circle cx="738.24" cy="1495.65" r="6.00" fill="#4472C4"/>
<circle cx="796.81" cy="1443.55" r="6.00" fill="#4472C4"/>
<circle cx="855.37" cy="1410.39" r="6.00" fill="#4472C4"/>
<circle cx="220.53" cy="1797.40" r="6.00" fill="#ED7D31"/>
<circle cx="337.66" cy="1797.40" r="6.00" fill="#ED7D31"/>
<circle cx="501.64" cy="1726.11" r="6.00" fill="#ED7D31"/>
<circle cx="618.77" cy="1604.60" r="6.00" fill="#ED7D31"/>
<circle cx="689.05" cy="1532.84" r="6.00" fill="#ED7D31"/>
<circle cx="747.61" cy="1478.32" r="6.00" fill="#ED7D31"/>
<circle cx="806.18" cy="1428.86" r="6.00" fill="#ED7D31"/>
<circle cx="171.34" cy="1797.40" r="6.00" fill="#7F7F7F"/>
<circle cx="288.47" cy="1797.40" r="6.00" fill="#7F7F7F"/>
<circle cx="452.45" cy="1777.98" r="6.00" fill="#7F7F7F"/>
<circle cx="569.58" cy="1678.98" r="6.00" fill="#7F7F7F"/>
<circle cx="639.85" cy="1594.66" r="6.00" fill="#7F7F7F"/>
<circle cx="698.42" cy="1524.55" r="6.00" fill="#7F7F7F"/>
<circle cx="756.98" cy="1470.55" r="6.00" fill="#7F7F7F"/>
<circle cx="185.8" cy="1350.40" r="6.00" fill="#4472C4"/>
<text x="202.22" y="1359.40" font-size="28.20" textLength="192.29" lengthAdjust="spacingAndGlyphs" >75C100RH-Pt/V</text>
<circle cx="185.8" cy="1390.50" r="6.00" fill="#ED7D31"/>
<text x="202.23" y="1399.20" font-size="28.20" textLength="176.69" lengthAdjust="spacingAndGlyphs" >75C70RH-Pt/V</text>
<circle cx="185.8" cy="1430.30" r="6.00" fill="#7F7F7F"/>
<text x="202.23" y="1438.60" font-size="28.20" textLength="176.69" lengthAdjust="spacingAndGlyphs" >75C40RH-Pt/V</text>
<text x="401.95" y="1888.80" font-size="34.50" font-weight="bold" textLength="329.55" lengthAdjust="spacingAndGlyphs" >Adjusted voltage (V)</text>
<text transform="translate(72.20,0) rotate(-90)" x="-1122.81" y="0" font-size="36.00" font-weight="bold" textLength="64.02" lengthAdjust="spacingAndGlyphs">PtO</text>
<text transform="translate(72.20,0) rotate(-90)" x="-1053.09" y="0" font-size="36.00" font-weight="bold" textLength="144.51" lengthAdjust="spacingAndGlyphs">coverage</text>
<text transform="translate(72.20,0) rotate(-90)" x="-896.68" y="0" font-size="36.00" font-weight="bold" textLength="7.91" lengthAdjust="spacingAndGlyphs">(</text>
<text transform="translate(72.20,0) rotate(-90)" x="-887.43" y="0" font-size="36.00" font-weight="bold" textLength="22.45" lengthAdjust="spacingAndGlyphs">θ</text>
<text transform="translate(82.00,0) rotate(-90)" x="-865.56" y="0" font-size="24.40" font-weight="bold" textLength="41.33" lengthAdjust="spacingAndGlyphs">PtO</text>
<text transform="translate(72.20,0) rotate(-90)" x="-824.03" y="0" font-size="36.00" font-weight="bold" textLength="11.80" lengthAdjust="spacingAndGlyphs">)</text>
<text transform="translate(64.30,0) rotate(-90)" x="-1722.81" y="0" font-size="36.00" font-weight="bold" textLength="64.02" lengthAdjust="spacingAndGlyphs">PtO</text>
<text transform="translate(64.30,0) rotate(-90)" x="-1653.09" y="0" font-size="36.00" font-weight="bold" textLength="144.51" lengthAdjust="spacingAndGlyphs">coverage</text>
<text transform="translate(64.30,0) rotate(-90)" x="-1496.66" y="0" font-size="36.00" font-weight="bold" textLength="7.79" lengthAdjust="spacingAndGlyphs">(</text>
<text transform="translate(64.30,0) rotate(-90)" x="-1487.47" y="0" font-size="36.00" font-weight="bold" textLength="21.73" lengthAdjust="spacingAndGlyphs">θ</text>
<text transform="translate(74.10,0) rotate(-90)" x="-1465.53" y="0" font-size="24.40" font-weight="bold" textLength="40.59" lengthAdjust="spacingAndGlyphs">PtO</text>
<text transform="translate(64.30,0) rotate(-90)" x="-1424.03" y="0" font-size="36.00" font-weight="bold" textLength="11.45" lengthAdjust="spacingAndGlyphs">)</text>
<text x="-2.50" y="40.40" font-size="56.00" font-weight="bold" >a)</text>
<text x="-4.00" y="716.00" font-size="56.00" font-weight="bold" >b)</text>
<text x="-2.60" y="1320.00" font-size="56.00" font-weight="bold" >c)</text>
</svg>
</body></html>
